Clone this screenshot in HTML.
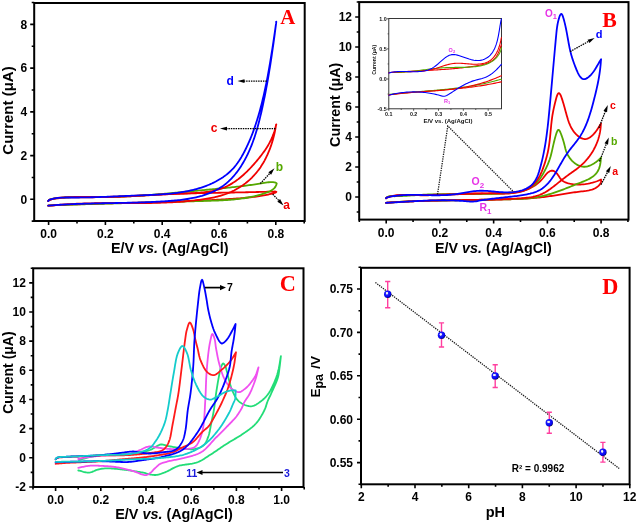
<!DOCTYPE html>
<html><head><meta charset="utf-8"><style>
html,body{margin:0;padding:0;background:#fff;}
svg{display:block;will-change:transform;}
</style></head><body>
<svg width="637" height="523" viewBox="0 0 637 523">
<defs><radialGradient id="ball" cx="0.4" cy="0.38" r="0.65"><stop offset="0" stop-color="#fff"/><stop offset="0.22" stop-color="#dde"/><stop offset="0.3" stop-color="#22f"/><stop offset="0.8" stop-color="#00e"/><stop offset="1" stop-color="#003"/></radialGradient></defs>
<rect width="637" height="523" fill="#fff"/>
<rect x="34.2" y="3" width="270.5" height="218" fill="none" stroke="#000" stroke-width="2"/>
<path d="M48.60,221v4M105.40,221v4M162.20,221v4M219.00,221v4M275.80,221v4M77.00,221v2.5M133.80,221v2.5M190.60,221v2.5M247.40,221v2.5M304.20,221v2.5" stroke="#000" stroke-width="1.6" fill="none"/>
<path d="M34.2,199.30h-4M34.2,155.58h-4M34.2,111.86h-4M34.2,68.14h-4M34.2,24.42h-4M34.2,221.16h-2.5M34.2,177.44h-2.5M34.2,133.72h-2.5M34.2,90.00h-2.5M34.2,46.28h-2.5M34.2,2.56h-2.5" stroke="#000" stroke-width="1.6" fill="none"/>
<text x="27.2" y="203.60000000000002" font-size="12" text-anchor="end" font-weight="bold" fill="#000" font-family='"Liberation Sans", sans-serif' >0</text>
<text x="27.2" y="159.88000000000002" font-size="12" text-anchor="end" font-weight="bold" fill="#000" font-family='"Liberation Sans", sans-serif' >2</text>
<text x="27.2" y="116.16000000000001" font-size="12" text-anchor="end" font-weight="bold" fill="#000" font-family='"Liberation Sans", sans-serif' >4</text>
<text x="27.2" y="72.44000000000001" font-size="12" text-anchor="end" font-weight="bold" fill="#000" font-family='"Liberation Sans", sans-serif' >6</text>
<text x="27.2" y="28.720000000000017" font-size="12" text-anchor="end" font-weight="bold" fill="#000" font-family='"Liberation Sans", sans-serif' >8</text>
<text x="48.6" y="238.3" font-size="12" text-anchor="middle" font-weight="bold" fill="#000" font-family='"Liberation Sans", sans-serif' >0.0</text>
<text x="105.4" y="238.3" font-size="12" text-anchor="middle" font-weight="bold" fill="#000" font-family='"Liberation Sans", sans-serif' >0.2</text>
<text x="162.20000000000002" y="238.3" font-size="12" text-anchor="middle" font-weight="bold" fill="#000" font-family='"Liberation Sans", sans-serif' >0.4</text>
<text x="219.0" y="238.3" font-size="12" text-anchor="middle" font-weight="bold" fill="#000" font-family='"Liberation Sans", sans-serif' >0.6</text>
<text x="275.8" y="238.3" font-size="12" text-anchor="middle" font-weight="bold" fill="#000" font-family='"Liberation Sans", sans-serif' >0.8</text>
<text x="169.7" y="252.9" font-size="14.4" text-anchor="middle" font-weight="bold" fill="#000" font-family='"Liberation Sans", sans-serif' >E/V <tspan font-style="italic">vs.</tspan> (Ag/AgCl)</text>
<text transform="translate(13.0,110.5) rotate(-90)" x="0" y="0" font-size="15" text-anchor="middle" font-weight="bold" font-family='"Liberation Sans", sans-serif'>Current (μA)</text>
<text x="287.8" y="24.4" font-size="20.8" text-anchor="middle" font-weight="bold" fill="#f00" font-family='"Liberation Serif", serif' >A</text>
<path d="M48.20,201.00L49.28,199.92L50.67,199.43L52.08,199.02L53.50,198.66L54.94,198.36L56.40,198.12L57.87,197.92L59.35,197.76L60.84,197.64L62.34,197.56L63.85,197.50L65.37,197.46L66.89,197.45L68.41,197.44L69.94,197.45L71.47,197.46L73.00,197.47L74.53,197.47L76.05,197.47L77.58,197.47L79.11,197.46L80.63,197.46L82.16,197.44L83.69,197.43L85.21,197.41L86.74,197.39L88.26,197.37L89.78,197.35L91.31,197.32L92.83,197.29L94.35,197.26L95.87,197.22L97.40,197.18L98.92,197.14L100.44,197.10L101.96,197.06L103.48,197.01L105.00,196.97L106.52,196.92L108.04,196.87L109.56,196.81L111.08,196.76L112.59,196.70L114.11,196.64L115.63,196.59L117.15,196.53L118.67,196.46L120.18,196.40L121.70,196.34L123.22,196.27L124.73,196.21L126.25,196.14L127.77,196.07L129.28,196.00L130.80,195.93L132.32,195.86L133.83,195.79L135.35,195.72L136.86,195.65L138.38,195.58L139.89,195.51L141.41,195.44L142.93,195.36L144.44,195.29L145.96,195.22L147.47,195.15L148.99,195.07L150.50,195.00L152.02,194.93L153.53,194.86L155.05,194.79L156.56,194.72L158.08,194.65L159.60,194.58L161.11,194.51L162.63,194.44L164.14,194.37L165.66,194.31L167.18,194.24L168.69,194.18L170.21,194.11L171.72,194.05L173.24,193.99L174.76,193.93L176.27,193.88L177.79,193.82L179.31,193.76L180.83,193.71L182.34,193.66L183.86,193.61L185.38,193.56L186.90,193.51L188.42,193.47L189.94,193.42L191.46,193.38L192.97,193.34L194.49,193.30L196.01,193.26L197.53,193.22L199.05,193.18L200.57,193.15L202.09,193.11L203.61,193.08L205.13,193.04L206.65,193.01L208.17,192.98L209.69,192.95L211.21,192.92L212.73,192.89L214.25,192.86L215.77,192.83L217.29,192.80L218.81,192.77L220.33,192.74L221.85,192.71L223.37,192.69L224.89,192.66L226.41,192.63L227.93,192.60L229.45,192.58L230.97,192.55L232.49,192.52L234.01,192.49L235.52,192.46L237.04,192.44L238.56,192.41L240.08,192.38L241.60,192.35L243.12,192.32L244.64,192.29L246.15,192.26L247.67,192.23L249.19,192.19L250.70,192.16L252.22,192.13L253.74,192.09L255.25,192.06L256.77,192.02L258.29,191.98L259.80,191.95L261.32,191.91L262.83,191.87L264.35,191.82L265.86,191.78L267.37,191.74L268.89,191.69L270.40,191.64L271.91,191.60L273.42,191.55L274.94,191.49L276.40,191.80L276.40,191.80L275.36,192.75L273.92,193.14L272.48,193.52L271.03,193.87L269.58,194.21L268.13,194.53L266.67,194.84L265.21,195.13L263.74,195.40L262.27,195.66L260.79,195.91L259.32,196.15L257.84,196.37L256.35,196.58L254.86,196.78L253.38,196.97L251.88,197.14L250.39,197.31L248.89,197.47L247.39,197.62L245.89,197.77L244.39,197.91L242.89,198.04L241.38,198.16L239.88,198.28L238.37,198.39L236.87,198.50L235.36,198.61L233.85,198.71L232.34,198.81L230.83,198.91L229.32,199.01L227.81,199.10L226.30,199.19L224.79,199.29L223.29,199.38L221.78,199.46L220.27,199.55L218.76,199.64L217.25,199.72L215.74,199.80L214.23,199.88L212.72,199.96L211.21,200.04L209.70,200.12L208.19,200.19L206.68,200.27L205.17,200.34L203.66,200.41L202.15,200.48L200.64,200.55L199.13,200.61L197.62,200.68L196.12,200.75L194.61,200.81L193.10,200.87L191.59,200.93L190.08,200.99L188.57,201.05L187.06,201.11L185.55,201.17L184.04,201.23L182.53,201.28L181.02,201.34L179.51,201.39L178.00,201.44L176.49,201.49L174.98,201.55L173.47,201.60L171.96,201.65L170.45,201.70L168.94,201.74L167.43,201.79L165.92,201.84L164.41,201.88L162.90,201.93L161.39,201.97L159.88,202.02L158.37,202.06L156.86,202.11L155.35,202.15L153.84,202.19L152.33,202.23L150.82,202.28L149.31,202.32L147.80,202.36L146.29,202.40L144.78,202.44L143.27,202.48L141.76,202.52L140.25,202.56L138.74,202.60L137.23,202.64L135.72,202.67L134.21,202.71L132.70,202.75L131.19,202.79L129.68,202.83L128.17,202.87L126.66,202.91L125.15,202.94L123.64,202.98L122.13,203.02L120.62,203.06L119.11,203.10L117.60,203.14L116.09,203.18L114.58,203.22L113.07,203.26L111.56,203.30L110.05,203.34L108.54,203.38L107.03,203.42L105.52,203.46L104.01,203.50L102.50,203.54L100.99,203.58L99.48,203.63L97.98,203.67L96.47,203.71L94.96,203.76L93.45,203.80L91.94,203.85L90.43,203.89L88.92,203.94L87.41,203.99L85.90,204.04L84.39,204.08L82.89,204.13L81.38,204.18L79.87,204.24L78.36,204.29L76.85,204.34L75.34,204.39L73.84,204.45L72.33,204.50L70.82,204.56L69.31,204.62L67.80,204.67L66.29,204.73L64.79,204.79L63.28,204.85L61.77,204.92L60.26,204.98L58.75,205.05L57.25,205.11L55.74,205.18L54.23,205.25L52.72,205.32L51.22,205.39L49.71,205.46L48.20,205.60" fill="none" stroke="#f00000" stroke-width="1.8" stroke-linejoin="round" stroke-linecap="round"/>
<path d="M48.20,201.00L49.22,199.87L50.57,199.34L51.97,198.96L53.42,198.68L54.90,198.47L56.39,198.30L57.88,198.13L59.37,197.98L60.86,197.84L62.36,197.72L63.86,197.61L65.35,197.51L66.85,197.42L68.36,197.35L69.86,197.28L71.36,197.22L72.87,197.17L74.37,197.13L75.88,197.10L77.39,197.07L78.90,197.05L80.41,197.04L81.92,197.03L83.43,197.02L84.95,197.02L86.46,197.02L87.97,197.03L89.49,197.03L91.00,197.04L92.52,197.05L94.03,197.06L95.55,197.06L97.06,197.07L98.58,197.07L100.09,197.08L101.61,197.07L103.12,197.07L104.64,197.06L106.15,197.04L107.66,197.02L109.18,197.00L110.69,196.97L112.20,196.94L113.72,196.90L115.23,196.86L116.74,196.81L118.25,196.77L119.77,196.71L121.28,196.65L122.79,196.59L124.30,196.53L125.81,196.46L127.32,196.39L128.83,196.31L130.34,196.23L131.85,196.15L133.36,196.07L134.87,195.98L136.38,195.89L137.88,195.79L139.39,195.70L140.90,195.60L142.41,195.49L143.92,195.39L145.42,195.28L146.93,195.17L148.44,195.06L149.94,194.94L151.45,194.83L152.96,194.71L154.46,194.59L155.97,194.47L157.47,194.34L158.98,194.22L160.48,194.09L161.99,193.96L163.49,193.83L165.00,193.69L166.50,193.56L168.00,193.43L169.51,193.29L171.01,193.15L172.51,193.02L174.02,192.88L175.52,192.74L177.02,192.60L178.52,192.46L180.03,192.32L181.53,192.17L183.03,192.03L184.53,191.89L186.03,191.75L187.53,191.60L189.04,191.46L190.54,191.32L192.04,191.18L193.54,191.03L195.04,190.89L196.54,190.75L198.04,190.61L199.54,190.47L201.04,190.33L202.54,190.19L204.04,190.05L205.54,189.91L207.04,189.77L208.54,189.63L210.04,189.49L211.54,189.35L213.04,189.21L214.54,189.06L216.04,188.92L217.54,188.77L219.04,188.63L220.54,188.48L222.04,188.33L223.54,188.18L225.04,188.03L226.54,187.87L228.04,187.71L229.54,187.55L231.04,187.39L232.54,187.23L234.05,187.06L235.55,186.89L237.05,186.72L238.56,186.54L240.06,186.36L241.56,186.18L243.07,186.00L244.57,185.81L246.08,185.61L247.59,185.42L249.09,185.22L250.60,185.01L252.11,184.80L253.62,184.59L255.13,184.37L256.64,184.15L258.15,183.92L259.66,183.69L261.17,183.45L262.68,183.20L264.20,182.96L265.71,182.70L267.22,182.46L268.72,182.25L270.19,182.11L271.64,182.04L273.05,182.09L274.42,182.27L275.73,182.60L276.70,183.50L276.70,183.50L276.22,185.15L275.48,186.60L274.58,187.85L273.54,188.91L272.39,189.82L271.15,190.61L269.83,191.28L268.46,191.88L267.06,192.43L265.65,192.94L264.23,193.43L262.80,193.90L261.37,194.35L259.93,194.78L258.48,195.18L257.04,195.57L255.58,195.94L254.12,196.28L252.66,196.61L251.19,196.93L249.72,197.22L248.24,197.50L246.76,197.76L245.28,198.01L243.79,198.24L242.29,198.46L240.80,198.67L239.30,198.86L237.80,199.04L236.29,199.21L234.79,199.36L233.28,199.51L231.76,199.64L230.25,199.77L228.73,199.88L227.21,199.99L225.69,200.09L224.17,200.18L222.65,200.27L221.12,200.34L219.60,200.42L218.07,200.48L216.54,200.55L215.01,200.61L213.49,200.66L211.96,200.71L210.43,200.76L208.90,200.81L207.37,200.86L205.85,200.90L204.32,200.95L202.79,200.99L201.27,201.04L199.74,201.08L198.22,201.12L196.69,201.17L195.17,201.21L193.65,201.25L192.12,201.30L190.60,201.34L189.08,201.38L187.56,201.43L186.04,201.47L184.52,201.51L183.00,201.55L181.48,201.60L179.96,201.64L178.44,201.68L176.92,201.72L175.41,201.76L173.89,201.81L172.37,201.85L170.86,201.89L169.34,201.93L167.83,201.97L166.31,202.01L164.79,202.05L163.28,202.09L161.77,202.13L160.25,202.17L158.74,202.21L157.22,202.26L155.71,202.30L154.20,202.34L152.68,202.38L151.17,202.42L149.66,202.46L148.15,202.50L146.63,202.54L145.12,202.58L143.61,202.62L142.10,202.66L140.59,202.70L139.08,202.74L137.56,202.78L136.05,202.82L134.54,202.86L133.03,202.90L131.52,202.94L130.01,202.98L128.50,203.02L126.99,203.06L125.48,203.10L123.96,203.15L122.45,203.19L120.94,203.23L119.43,203.27L117.92,203.31L116.41,203.35L114.90,203.39L113.39,203.43L111.88,203.48L110.36,203.52L108.85,203.56L107.34,203.60L105.83,203.64L104.32,203.69L102.80,203.73L101.29,203.77L99.78,203.82L98.27,203.86L96.75,203.90L95.24,203.95L93.73,203.99L92.21,204.03L90.70,204.08L89.18,204.12L87.67,204.17L86.15,204.21L84.64,204.26L83.12,204.30L81.61,204.35L80.09,204.39L78.57,204.44L77.06,204.49L75.54,204.53L74.02,204.58L72.50,204.63L70.99,204.67L69.47,204.72L67.95,204.77L66.43,204.82L64.91,204.87L63.39,204.92L61.87,204.97L60.34,205.02L58.82,205.07L57.30,205.12L55.78,205.17L54.25,205.22L52.73,205.27L51.20,205.32L49.68,205.37L48.20,205.60" fill="none" stroke="#55a800" stroke-width="1.8" stroke-linejoin="round" stroke-linecap="round"/>
<path d="M48.20,201.00L49.27,199.93L50.68,199.55L52.10,199.23L53.54,198.94L54.99,198.68L56.44,198.45L57.90,198.24L59.37,198.04L60.85,197.87L62.33,197.71L63.81,197.57L65.31,197.44L66.80,197.33L68.30,197.24L69.81,197.15L71.31,197.08L72.83,197.03L74.34,196.98L75.86,196.94L77.38,196.91L78.91,196.89L80.43,196.88L81.96,196.88L83.49,196.88L85.02,196.89L86.56,196.90L88.09,196.91L89.62,196.93L91.16,196.95L92.69,196.97L94.23,196.99L95.76,197.01L97.30,197.02L98.83,197.04L100.36,197.05L101.89,197.06L103.42,197.06L104.94,197.06L106.46,197.05L107.98,197.04L109.50,197.02L111.02,197.00L112.54,196.97L114.05,196.94L115.56,196.90L117.07,196.85L118.58,196.81L120.09,196.75L121.59,196.70L123.10,196.64L124.60,196.58L126.11,196.51L127.61,196.44L129.11,196.37L130.61,196.29L132.11,196.22L133.61,196.14L135.11,196.06L136.61,195.97L138.11,195.89L139.61,195.80L141.11,195.71L142.61,195.62L144.11,195.53L145.61,195.44L147.11,195.35L148.61,195.26L150.11,195.16L151.61,195.07L153.12,194.98L154.62,194.89L156.13,194.80L157.63,194.71L159.14,194.62L160.65,194.53L162.16,194.44L163.67,194.36L165.18,194.27L166.70,194.19L168.22,194.11L169.74,194.04L171.26,193.96L172.78,193.89L174.31,193.82L175.84,193.76L177.37,193.69L178.90,193.64L180.44,193.58L181.97,193.53L183.51,193.48L185.06,193.43L186.60,193.38L188.14,193.33L189.68,193.28L191.22,193.22L192.76,193.15L194.30,193.07L195.84,192.99L197.37,192.89L198.90,192.78L200.42,192.66L201.94,192.52L203.46,192.37L204.96,192.20L206.46,192.01L207.96,191.79L209.44,191.56L210.92,191.30L212.39,191.01L213.85,190.70L215.30,190.36L216.73,189.99L218.16,189.59L219.58,189.16L220.98,188.69L222.37,188.19L223.74,187.65L225.11,187.07L226.45,186.46L227.79,185.80L229.10,185.11L230.41,184.39L231.70,183.63L232.97,182.84L234.24,182.02L235.48,181.16L236.72,180.28L237.94,179.38L239.14,178.45L240.33,177.49L241.51,176.51L242.68,175.51L243.83,174.48L244.96,173.44L246.09,172.38L247.20,171.31L248.29,170.22L249.38,169.11L250.45,168.00L251.50,166.87L252.55,165.73L253.58,164.58L254.59,163.43L255.60,162.27L256.59,161.11L257.57,159.94L258.53,158.77L259.48,157.59L260.42,156.41L261.34,155.23L262.24,154.04L263.13,152.83L264.00,151.63L264.85,150.41L265.67,149.18L266.48,147.94L267.27,146.68L268.03,145.42L268.77,144.14L269.48,142.84L270.17,141.53L270.84,140.20L271.48,138.85L272.09,137.49L272.67,136.10L273.22,134.70L273.74,133.27L274.24,131.82L274.70,130.35L275.12,128.86L275.52,127.33L275.88,125.79L276.30,124.30L276.30,124.30L275.95,125.65L275.71,127.12L275.46,128.60L275.18,130.08L274.88,131.56L274.57,133.05L274.23,134.54L273.87,136.03L273.49,137.52L273.09,139.01L272.67,140.50L272.23,141.98L271.76,143.46L271.28,144.94L270.77,146.41L270.25,147.88L269.70,149.33L269.13,150.78L268.53,152.22L267.92,153.65L267.28,155.07L266.62,156.47L265.94,157.86L265.24,159.24L264.52,160.60L263.77,161.94L263.00,163.27L262.20,164.58L261.39,165.87L260.55,167.14L259.68,168.39L258.80,169.61L257.89,170.81L256.95,171.99L256.00,173.15L255.02,174.28L254.02,175.39L253.00,176.48L251.96,177.54L250.90,178.57L249.81,179.59L248.71,180.57L247.59,181.54L246.45,182.47L245.29,183.39L244.11,184.28L242.91,185.14L241.70,185.98L240.47,186.79L239.22,187.58L237.96,188.34L236.68,189.07L235.38,189.78L234.07,190.47L232.75,191.12L231.41,191.76L230.06,192.36L228.69,192.94L227.31,193.49L225.92,194.01L224.51,194.51L223.10,194.98L221.67,195.42L220.23,195.84L218.79,196.24L217.33,196.62L215.87,196.97L214.39,197.30L212.92,197.62L211.43,197.92L209.94,198.20L208.44,198.46L206.94,198.72L205.44,198.96L203.93,199.18L202.43,199.40L200.92,199.61L199.41,199.81L197.90,200.00L196.39,200.18L194.88,200.36L193.36,200.53L191.85,200.69L190.34,200.85L188.83,201.00L187.32,201.14L185.80,201.28L184.29,201.41L182.78,201.53L181.26,201.65L179.75,201.76L178.24,201.87L176.72,201.97L175.21,202.07L173.69,202.16L172.18,202.24L170.67,202.32L169.15,202.40L167.64,202.47L166.12,202.54L164.61,202.60L163.09,202.66L161.57,202.71L160.06,202.76L158.54,202.81L157.03,202.85L155.51,202.89L154.00,202.92L152.48,202.96L150.96,202.98L149.45,203.01L147.93,203.03L146.42,203.06L144.90,203.07L143.38,203.09L141.87,203.10L140.35,203.12L138.83,203.13L137.32,203.14L135.80,203.14L134.29,203.15L132.77,203.15L131.25,203.16L129.74,203.16L128.22,203.16L126.71,203.16L125.19,203.16L123.68,203.16L122.16,203.16L120.65,203.16L119.13,203.16L117.62,203.16L116.10,203.16L114.59,203.16L113.07,203.16L111.56,203.16L110.04,203.16L108.53,203.16L107.02,203.17L105.50,203.18L103.99,203.18L102.48,203.19L100.97,203.20L99.45,203.22L97.94,203.23L96.43,203.25L94.92,203.27L93.41,203.29L91.90,203.32L90.39,203.34L88.88,203.37L87.37,203.41L85.86,203.45L84.35,203.49L82.84,203.53L81.33,203.58L79.82,203.63L78.31,203.68L76.81,203.74L75.30,203.81L73.79,203.88L72.29,203.95L70.78,204.03L69.28,204.11L67.77,204.20L66.27,204.29L64.76,204.39L63.26,204.49L61.76,204.60L60.25,204.72L58.75,204.84L57.25,204.97L55.75,205.10L54.25,205.24L52.75,205.38L51.25,205.54L49.75,205.70L48.20,205.60" fill="none" stroke="#f00000" stroke-width="1.8" stroke-linejoin="round" stroke-linecap="round"/>
<path d="M48.20,201.00L49.25,199.93L50.62,199.45L52.00,199.04L53.41,198.69L54.85,198.40L56.30,198.15L57.77,197.96L59.25,197.80L60.75,197.69L62.26,197.60L63.78,197.54L65.31,197.51L66.84,197.49L68.38,197.48L69.91,197.49L71.45,197.49L72.98,197.50L74.51,197.50L76.04,197.49L77.56,197.49L79.09,197.48L80.60,197.46L82.12,197.45L83.63,197.42L85.14,197.40L86.65,197.37L88.15,197.34L89.65,197.31L91.15,197.27L92.65,197.24L94.15,197.19L95.64,197.15L97.14,197.11L98.63,197.06L100.12,197.01L101.61,196.96L103.10,196.90L104.59,196.85L106.08,196.79L107.57,196.74L109.06,196.68L110.55,196.62L112.04,196.56L113.53,196.49L115.02,196.43L116.51,196.37L118.00,196.30L119.49,196.24L120.98,196.17L122.48,196.11L123.97,196.04L125.47,195.98L126.97,195.91L128.47,195.85L129.97,195.78L131.47,195.72L132.98,195.66L134.49,195.59L136.00,195.53L137.51,195.47L139.03,195.41L140.55,195.35L142.07,195.29L143.60,195.23L145.12,195.17L146.65,195.11L148.18,195.05L149.71,194.98L151.24,194.91L152.77,194.84L154.30,194.77L155.83,194.69L157.36,194.60L158.90,194.51L160.43,194.41L161.96,194.31L163.48,194.20L165.01,194.08L166.54,193.96L168.06,193.83L169.58,193.68L171.10,193.53L172.62,193.37L174.14,193.20L175.65,193.02L177.16,192.82L178.66,192.62L180.16,192.40L181.66,192.17L183.15,191.93L184.64,191.67L186.13,191.40L187.60,191.11L189.08,190.81L190.55,190.49L192.01,190.16L193.47,189.81L194.92,189.44L196.36,189.06L197.80,188.65L199.23,188.23L200.65,187.79L202.07,187.33L203.48,186.85L204.88,186.35L206.27,185.82L207.65,185.28L209.03,184.71L210.40,184.12L211.76,183.51L213.10,182.87L214.44,182.21L215.77,181.53L217.08,180.82L218.38,180.08L219.66,179.32L220.93,178.54L222.18,177.72L223.42,176.88L224.63,176.02L225.83,175.12L227.00,174.20L228.15,173.25L229.28,172.26L230.38,171.25L231.46,170.21L232.51,169.14L233.53,168.04L234.53,166.91L235.49,165.74L236.43,164.55L237.34,163.33L238.22,162.08L239.08,160.81L239.91,159.52L240.72,158.21L241.51,156.89L242.27,155.55L243.02,154.20L243.75,152.84L244.46,151.48L245.16,150.11L245.84,148.73L246.51,147.36L247.17,145.98L247.81,144.60L248.43,143.22L249.05,141.83L249.65,140.44L250.24,139.05L250.81,137.66L251.38,136.26L251.93,134.86L252.47,133.46L253.00,132.06L253.52,130.65L254.03,129.24L254.52,127.83L255.01,126.41L255.49,125.00L255.96,123.58L256.42,122.15L256.87,120.73L257.32,119.30L257.75,117.87L258.18,116.44L258.60,115.00L259.02,113.56L259.42,112.12L259.82,110.68L260.22,109.23L260.60,107.78L260.99,106.33L261.36,104.88L261.73,103.42L262.10,101.96L262.46,100.50L262.81,99.04L263.16,97.58L263.50,96.11L263.84,94.64L264.17,93.17L264.50,91.70L264.82,90.22L265.14,88.75L265.46,87.27L265.77,85.79L266.07,84.31L266.37,82.83L266.67,81.34L266.96,79.86L267.25,78.37L267.54,76.89L267.82,75.40L268.10,73.91L268.37,72.42L268.64,70.93L268.91,69.44L269.17,67.95L269.43,66.46L269.69,64.96L269.95,63.47L270.20,61.98L270.45,60.48L270.69,58.99L270.94,57.49L271.18,56.00L271.42,54.50L271.66,53.01L271.89,51.51L272.13,50.02L272.36,48.52L272.59,47.03L272.82,45.53L273.04,44.04L273.27,42.55L273.49,41.05L273.72,39.56L273.94,38.07L274.16,36.58L274.38,35.09L274.60,33.60L274.82,32.11L275.03,30.63L275.25,29.14L275.47,27.65L275.68,26.17L275.90,24.69L276.12,23.21L276.30,21.70L276.30,21.70L276.15,23.18L275.96,24.70L275.76,26.21L275.56,27.73L275.36,29.24L275.16,30.75L274.96,32.25L274.76,33.76L274.56,35.27L274.36,36.77L274.15,38.27L273.95,39.77L273.74,41.27L273.54,42.76L273.33,44.26L273.12,45.75L272.91,47.24L272.70,48.73L272.48,50.22L272.27,51.71L272.05,53.19L271.84,54.68L271.62,56.16L271.39,57.65L271.17,59.13L270.95,60.61L270.72,62.09L270.49,63.57L270.26,65.05L270.02,66.53L269.79,68.00L269.55,69.48L269.31,70.96L269.07,72.43L268.82,73.91L268.57,75.38L268.32,76.85L268.07,78.33L267.81,79.80L267.55,81.27L267.29,82.74L267.02,84.22L266.76,85.69L266.48,87.16L266.21,88.63L265.93,90.10L265.65,91.58L265.37,93.05L265.08,94.52L264.79,95.99L264.49,97.46L264.19,98.94L263.89,100.41L263.58,101.88L263.27,103.35L262.96,104.83L262.64,106.30L262.32,107.78L261.99,109.25L261.66,110.73L261.33,112.21L260.99,113.68L260.64,115.16L260.29,116.64L259.93,118.11L259.57,119.59L259.20,121.06L258.82,122.54L258.43,124.01L258.04,125.48L257.63,126.95L257.22,128.42L256.79,129.89L256.36,131.35L255.91,132.81L255.46,134.27L254.99,135.73L254.51,137.18L254.01,138.63L253.51,140.08L252.99,141.52L252.45,142.96L251.91,144.39L251.34,145.82L250.76,147.25L250.17,148.67L249.56,150.09L248.93,151.50L248.29,152.90L247.63,154.30L246.95,155.69L246.25,157.07L245.54,158.44L244.81,159.81L244.06,161.15L243.29,162.49L242.51,163.82L241.71,165.12L240.89,166.42L240.05,167.69L239.19,168.95L238.31,170.20L237.42,171.42L236.51,172.62L235.58,173.80L234.62,174.96L233.66,176.10L232.67,177.21L231.66,178.29L230.63,179.36L229.58,180.39L228.52,181.40L227.43,182.37L226.32,183.32L225.20,184.24L224.05,185.12L222.89,185.98L221.70,186.80L220.49,187.59L219.27,188.35L218.03,189.08L216.77,189.78L215.49,190.45L214.20,191.10L212.89,191.72L211.57,192.31L210.23,192.88L208.88,193.42L207.51,193.94L206.13,194.43L204.74,194.90L203.33,195.35L201.92,195.78L200.49,196.18L199.05,196.57L197.60,196.93L196.14,197.28L194.68,197.61L193.20,197.92L191.72,198.21L190.22,198.49L188.72,198.75L187.22,199.00L185.71,199.23L184.19,199.45L182.67,199.65L181.14,199.84L179.61,200.02L178.08,200.19L176.54,200.35L175.00,200.50L173.46,200.64L171.92,200.77L170.38,200.90L168.84,201.01L167.30,201.12L165.75,201.23L164.21,201.33L162.67,201.42L161.14,201.51L159.60,201.60L158.07,201.69L156.54,201.77L155.02,201.84L153.49,201.92L151.97,201.99L150.45,202.05L148.93,202.12L147.41,202.18L145.89,202.24L144.38,202.29L142.87,202.35L141.35,202.40L139.84,202.45L138.34,202.49L136.83,202.54L135.32,202.58L133.82,202.62L132.32,202.66L130.81,202.70L129.31,202.73L127.81,202.77L126.31,202.80L124.81,202.83L123.32,202.86L121.82,202.90L120.32,202.92L118.83,202.95L117.33,202.98L115.84,203.01L114.34,203.04L112.85,203.07L111.36,203.09L109.87,203.12L108.37,203.15L106.88,203.17L105.39,203.20L103.89,203.23L102.40,203.26L100.91,203.29L99.42,203.32L97.92,203.35L96.43,203.38L94.94,203.42L93.44,203.45L91.95,203.49L90.45,203.53L88.96,203.57L87.46,203.61L85.96,203.65L84.47,203.70L82.97,203.74L81.47,203.79L79.97,203.84L78.47,203.90L76.96,203.95L75.46,204.01L73.95,204.08L72.45,204.14L70.94,204.21L69.43,204.28L67.92,204.35L66.41,204.43L64.90,204.51L63.38,204.59L61.86,204.68L60.35,204.77L58.83,204.87L57.30,204.97L55.78,205.07L54.25,205.18L52.72,205.29L51.19,205.41L49.66,205.53L48.20,205.60" fill="none" stroke="#0000ff" stroke-width="1.8" stroke-linejoin="round" stroke-linecap="round"/>
<line x1="266.8" y1="81.1" x2="243.00" y2="81.10" stroke="#000" stroke-width="1.3" stroke-dasharray="1.5,0.9"/>
<path d="M237.50,81.10L244.50,79.20L244.50,83.00Z" fill="#000"/>
<line x1="275.5" y1="128.6" x2="225.50" y2="128.60" stroke="#000" stroke-width="1.3" stroke-dasharray="1.5,0.9"/>
<path d="M220.00,128.60L227.00,126.70L227.00,130.50Z" fill="#000"/>
<line x1="260.3" y1="183.6" x2="270.76" y2="172.33" stroke="#000" stroke-width="1.3" stroke-dasharray="1.5,0.9"/>
<path d="M274.50,168.30L271.13,174.72L268.35,172.14Z" fill="#000"/>
<line x1="272.7" y1="194.1" x2="279.72" y2="201.51" stroke="#000" stroke-width="1.3" stroke-dasharray="1.5,0.9"/>
<path d="M283.50,205.50L277.31,201.73L280.07,199.11Z" fill="#000"/>
<text x="230.2" y="84.8" font-size="12" text-anchor="middle" font-weight="bold" fill="#0000ff" font-family='"Liberation Sans", sans-serif' >d</text>
<text x="214.2" y="132.4" font-size="12" text-anchor="middle" font-weight="bold" fill="#f00000" font-family='"Liberation Sans", sans-serif' >c</text>
<text x="279.3" y="171.3" font-size="12" text-anchor="middle" font-weight="bold" fill="#55a800" font-family='"Liberation Sans", sans-serif' >b</text>
<text x="286.7" y="208.6" font-size="12" text-anchor="middle" font-weight="bold" fill="#f00000" font-family='"Liberation Sans", sans-serif' >a</text>
<rect x="359.2" y="2.1" width="269.3" height="217.5" fill="none" stroke="#000" stroke-width="2"/>
<path d="M386.20,219.6v4M439.92,219.6v4M493.64,219.6v4M547.36,219.6v4M601.08,219.6v4M359.34,219.6v2.5M413.06,219.6v2.5M466.78,219.6v2.5M520.50,219.6v2.5M574.22,219.6v2.5M627.94,219.6v2.5" stroke="#000" stroke-width="1.6" fill="none"/>
<path d="M359.2,197.00h-4M359.2,167.00h-4M359.2,137.00h-4M359.2,107.00h-4M359.2,77.00h-4M359.2,47.00h-4M359.2,17.00h-4M359.2,212.00h-2.5M359.2,182.00h-2.5M359.2,152.00h-2.5M359.2,122.00h-2.5M359.2,92.00h-2.5M359.2,62.00h-2.5M359.2,32.00h-2.5M359.2,2.00h-2.5" stroke="#000" stroke-width="1.6" fill="none"/>
<text x="352" y="201.3" font-size="12" text-anchor="end" font-weight="bold" fill="#000" font-family='"Liberation Sans", sans-serif' >0</text>
<text x="352" y="171.3" font-size="12" text-anchor="end" font-weight="bold" fill="#000" font-family='"Liberation Sans", sans-serif' >2</text>
<text x="352" y="141.3" font-size="12" text-anchor="end" font-weight="bold" fill="#000" font-family='"Liberation Sans", sans-serif' >4</text>
<text x="352" y="111.3" font-size="12" text-anchor="end" font-weight="bold" fill="#000" font-family='"Liberation Sans", sans-serif' >6</text>
<text x="352" y="81.3" font-size="12" text-anchor="end" font-weight="bold" fill="#000" font-family='"Liberation Sans", sans-serif' >8</text>
<text x="352" y="51.3" font-size="12" text-anchor="end" font-weight="bold" fill="#000" font-family='"Liberation Sans", sans-serif' >10</text>
<text x="352" y="21.3" font-size="12" text-anchor="end" font-weight="bold" fill="#000" font-family='"Liberation Sans", sans-serif' >12</text>
<text x="386.2" y="237" font-size="12" text-anchor="middle" font-weight="bold" fill="#000" font-family='"Liberation Sans", sans-serif' >0.0</text>
<text x="439.92" y="237" font-size="12" text-anchor="middle" font-weight="bold" fill="#000" font-family='"Liberation Sans", sans-serif' >0.2</text>
<text x="493.64" y="237" font-size="12" text-anchor="middle" font-weight="bold" fill="#000" font-family='"Liberation Sans", sans-serif' >0.4</text>
<text x="547.36" y="237" font-size="12" text-anchor="middle" font-weight="bold" fill="#000" font-family='"Liberation Sans", sans-serif' >0.6</text>
<text x="601.08" y="237" font-size="12" text-anchor="middle" font-weight="bold" fill="#000" font-family='"Liberation Sans", sans-serif' >0.8</text>
<text x="493.4" y="252.5" font-size="14.3" text-anchor="middle" font-weight="bold" fill="#000" font-family='"Liberation Sans", sans-serif' >E/V <tspan font-style="italic">vs.</tspan> (Ag/AgCl)</text>
<text transform="translate(339.8,104.8) rotate(-90)" x="0" y="0" font-size="14.3" text-anchor="middle" font-weight="bold" font-family='"Liberation Sans", sans-serif'>Current (μA)</text>
<text x="609.5" y="27.1" font-size="21.8" text-anchor="middle" font-weight="bold" fill="#f00" font-family='"Liberation Serif", serif' >B</text>
<path d="M386.00,198.20L387.23,197.40L388.60,196.91L389.99,196.49L391.40,196.12L392.84,195.80L394.29,195.54L395.76,195.33L397.24,195.16L398.74,195.03L400.25,194.93L401.78,194.87L403.31,194.83L404.85,194.82L406.40,194.83L407.96,194.86L409.52,194.90L411.08,194.95L412.64,195.01L414.20,195.06L415.76,195.12L417.32,195.17L418.87,195.21L420.42,195.23L421.96,195.25L423.50,195.26L425.04,195.26L426.57,195.26L428.09,195.24L429.62,195.22L431.14,195.19L432.65,195.15L434.17,195.11L435.68,195.06L437.18,195.00L438.69,194.95L440.19,194.88L441.70,194.82L443.20,194.75L444.70,194.68L446.19,194.61L447.69,194.53L449.19,194.45L450.69,194.38L452.18,194.30L453.68,194.23L455.17,194.15L456.67,194.08L458.17,194.00L459.67,193.93L461.17,193.87L462.67,193.80L464.17,193.74L465.68,193.69L467.19,193.64L468.70,193.59L470.21,193.55L471.72,193.52L473.24,193.50L474.76,193.48L476.29,193.47L477.82,193.46L479.35,193.47L480.89,193.48L482.43,193.51L483.97,193.54L485.52,193.57L487.07,193.61L488.62,193.65L490.17,193.69L491.72,193.73L493.27,193.76L494.82,193.79L496.37,193.80L497.91,193.82L499.46,193.81L500.99,193.80L502.53,193.77L504.06,193.73L505.59,193.67L507.11,193.59L508.62,193.48L510.13,193.36L511.63,193.21L513.12,193.03L514.60,192.82L516.07,192.59L517.53,192.32L518.98,192.02L520.42,191.68L521.85,191.31L523.27,190.89L524.67,190.44L526.06,189.94L527.43,189.40L528.79,188.82L530.14,188.18L531.46,187.50L532.77,186.77L534.06,185.99L535.32,185.15L536.56,184.26L537.78,183.32L538.96,182.32L540.11,181.27L541.23,180.15L542.31,178.99L543.36,177.76L544.37,176.48L545.38,175.20L546.40,173.98L547.48,172.86L548.64,171.91L549.89,171.19L551.17,170.75L552.45,170.66L553.70,170.95L554.88,171.59L556.00,172.51L557.04,173.65L557.99,174.94L558.89,176.30L559.78,177.67L560.71,178.95L561.73,180.10L562.87,181.03L564.11,181.79L565.45,182.39L566.84,182.88L568.27,183.29L569.73,183.63L571.21,183.92L572.70,184.15L574.21,184.33L575.74,184.44L577.27,184.51L578.82,184.53L580.36,184.49L581.91,184.41L583.46,184.28L585.01,184.10L586.54,183.88L588.07,183.62L589.59,183.32L591.09,182.98L592.58,182.60L594.04,182.19L595.49,181.74L596.90,181.26L598.29,180.74L599.65,180.20L601.00,179.50L601.00,179.50L601.26,181.12L600.83,182.61L600.10,183.94L599.22,185.12L598.22,186.16L597.13,187.07L595.95,187.85L594.70,188.52L593.37,189.10L591.99,189.58L590.55,189.99L589.06,190.33L587.54,190.62L585.99,190.87L584.42,191.08L582.84,191.28L581.26,191.46L579.68,191.65L578.11,191.85L576.56,192.05L575.01,192.26L573.47,192.48L571.94,192.70L570.42,192.93L568.91,193.16L567.40,193.40L565.90,193.63L564.40,193.87L562.91,194.11L561.43,194.36L559.94,194.60L558.46,194.84L556.99,195.08L555.51,195.31L554.04,195.55L552.56,195.78L551.09,196.00L549.61,196.22L548.14,196.43L546.66,196.64L545.18,196.84L543.70,197.02L542.22,197.21L540.73,197.38L539.23,197.54L537.73,197.68L536.23,197.82L534.72,197.95L533.21,198.07L531.70,198.19L530.18,198.29L528.66,198.39L527.14,198.48L525.62,198.57L524.09,198.65L522.57,198.73L521.04,198.80L519.52,198.87L517.99,198.93L516.47,199.00L514.95,199.06L513.42,199.12L511.90,199.18L510.38,199.23L508.85,199.28L507.33,199.33L505.81,199.38L504.29,199.43L502.77,199.47L501.25,199.51L499.73,199.55L498.21,199.59L496.69,199.63L495.17,199.66L493.65,199.70L492.13,199.73L490.61,199.76L489.09,199.79L487.57,199.82L486.05,199.84L484.53,199.87L483.01,199.89L481.50,199.92L479.98,199.94L478.46,199.96L476.94,199.98L475.43,200.01L473.91,200.03L472.39,200.05L470.88,200.07L469.36,200.08L467.84,200.10L466.33,200.12L464.81,200.14L463.30,200.16L461.78,200.18L460.26,200.20L458.75,200.22L457.23,200.24L455.72,200.26L454.20,200.28L452.69,200.30L451.17,200.32L449.66,200.34L448.14,200.36L446.63,200.38L445.11,200.41L443.60,200.43L442.08,200.46L440.56,200.49L439.05,200.52L437.53,200.55L436.02,200.58L434.50,200.61L432.99,200.64L431.47,200.68L429.96,200.72L428.44,200.75L426.93,200.79L425.41,200.84L423.90,200.88L422.38,200.93L420.87,200.98L419.35,201.03L417.84,201.08L416.32,201.13L414.80,201.19L413.29,201.25L411.77,201.31L410.26,201.38L408.74,201.45L407.22,201.52L405.71,201.59L404.19,201.67L402.67,201.75L401.16,201.83L399.64,201.91L398.12,202.00L396.60,202.10L395.09,202.19L393.57,202.29L392.05,202.39L390.53,202.50L389.01,202.61L387.50,202.72L386.00,202.90" fill="none" stroke="#f00000" stroke-width="1.8" stroke-linejoin="round" stroke-linecap="round"/>
<path d="M386.00,198.20L387.16,197.07L388.49,196.48L389.91,196.22L391.38,196.18L392.88,196.21L394.39,196.23L395.90,196.22L397.41,196.20L398.93,196.17L400.45,196.11L401.97,196.05L403.49,195.97L405.02,195.88L406.54,195.79L408.07,195.69L409.60,195.58L411.13,195.47L412.65,195.36L414.18,195.26L415.71,195.15L417.23,195.05L418.76,194.95L420.28,194.86L421.80,194.78L423.32,194.70L424.84,194.63L426.36,194.57L427.88,194.51L429.39,194.45L430.91,194.40L432.42,194.36L433.94,194.32L435.45,194.28L436.96,194.25L438.47,194.22L439.98,194.19L441.49,194.17L443.00,194.15L444.51,194.14L446.01,194.12L447.52,194.11L449.03,194.10L450.54,194.09L452.04,194.09L453.55,194.08L455.06,194.08L456.56,194.08L458.07,194.08L459.58,194.08L461.08,194.07L462.59,194.07L464.10,194.07L465.60,194.07L467.11,194.07L468.62,194.07L470.13,194.06L471.64,194.06L473.15,194.05L474.66,194.04L476.17,194.03L477.68,194.01L479.19,194.00L480.71,193.98L482.22,193.96L483.74,193.93L485.25,193.90L486.77,193.87L488.29,193.83L489.81,193.79L491.33,193.75L492.85,193.70L494.38,193.65L495.90,193.59L497.43,193.52L498.96,193.45L500.49,193.37L502.02,193.29L503.55,193.20L505.09,193.11L506.62,193.01L508.16,192.89L509.69,192.77L511.22,192.63L512.75,192.47L514.27,192.29L515.77,192.08L517.27,191.84L518.75,191.56L520.22,191.26L521.66,190.91L523.09,190.51L524.50,190.08L525.88,189.59L527.23,189.05L528.56,188.45L529.86,187.79L531.13,187.07L532.36,186.29L533.55,185.43L534.71,184.50L535.83,183.49L536.90,182.41L537.94,181.25L538.93,180.03L539.88,178.76L540.80,177.44L541.68,176.09L542.52,174.72L543.32,173.33L544.09,171.93L544.83,170.54L545.53,169.16L546.20,167.80L546.83,166.46L547.44,165.12L548.01,163.79L548.55,162.46L549.06,161.12L549.54,159.78L549.99,158.41L550.41,157.04L550.80,155.64L551.17,154.23L551.53,152.80L551.88,151.35L552.21,149.88L552.55,148.40L552.88,146.90L553.22,145.38L553.57,143.84L553.94,142.29L554.32,140.71L554.73,139.12L555.16,137.51L555.62,135.88L556.12,134.23L556.66,132.63L557.22,131.25L557.82,130.25L558.43,129.82L559.06,130.08L559.69,130.95L560.33,132.24L560.95,133.79L561.55,135.42L562.12,137.04L562.67,138.62L563.17,140.18L563.63,141.70L564.05,143.20L564.42,144.66L564.77,146.11L565.11,147.53L565.47,148.94L565.87,150.33L566.34,151.72L566.89,153.09L567.54,154.46L568.28,155.81L569.11,157.13L570.03,158.41L571.02,159.64L572.08,160.80L573.21,161.90L574.39,162.91L575.63,163.83L576.92,164.64L578.25,165.34L579.62,165.91L581.02,166.35L582.44,166.64L583.88,166.77L585.34,166.73L586.80,166.52L588.26,166.16L589.72,165.65L591.15,165.03L592.56,164.30L593.93,163.48L595.26,162.60L596.54,161.66L597.76,160.69L598.90,159.70L599.97,158.71L601.00,157.70L601.00,157.70L600.79,159.12L600.70,160.78L600.52,162.43L600.27,164.04L599.94,165.62L599.52,167.15L599.01,168.62L598.41,170.01L597.72,171.32L596.93,172.53L596.04,173.66L595.08,174.69L594.03,175.65L592.91,176.54L591.73,177.36L590.49,178.13L589.20,178.85L587.87,179.52L586.50,180.16L585.11,180.77L583.69,181.36L582.25,181.93L580.81,182.50L579.37,183.07L577.93,183.64L576.50,184.21L575.06,184.78L573.63,185.35L572.20,185.92L570.77,186.50L569.35,187.06L567.92,187.63L566.49,188.19L565.07,188.74L563.64,189.29L562.22,189.83L560.79,190.36L559.36,190.89L557.94,191.40L556.51,191.90L555.07,192.39L553.64,192.87L552.20,193.33L550.76,193.78L549.32,194.22L547.88,194.63L546.43,195.03L544.97,195.41L543.52,195.77L542.05,196.11L540.59,196.43L539.12,196.73L537.64,197.01L536.16,197.26L534.67,197.50L533.18,197.71L531.68,197.91L530.18,198.08L528.68,198.25L527.17,198.39L525.66,198.52L524.15,198.64L522.64,198.75L521.12,198.84L519.60,198.92L518.08,198.99L516.55,199.06L515.03,199.11L513.50,199.16L511.97,199.20L510.45,199.23L508.92,199.26L507.39,199.29L505.86,199.31L504.33,199.33L502.80,199.35L501.28,199.37L499.75,199.39L498.23,199.42L496.70,199.44L495.18,199.47L493.66,199.49L492.14,199.52L490.62,199.55L489.10,199.58L487.58,199.61L486.06,199.64L484.55,199.68L483.03,199.71L481.52,199.75L480.00,199.78L478.49,199.82L476.97,199.85L475.46,199.89L473.95,199.92L472.43,199.96L470.92,199.99L469.41,200.03L467.89,200.07L466.38,200.10L464.87,200.14L463.35,200.17L461.84,200.20L460.33,200.24L458.81,200.27L457.30,200.30L455.78,200.33L454.27,200.36L452.75,200.38L451.23,200.41L449.72,200.44L448.20,200.46L446.68,200.49L445.16,200.51L443.65,200.54L442.13,200.56L440.61,200.59L439.09,200.61L437.57,200.64L436.05,200.66L434.53,200.69L433.01,200.72L431.49,200.74L429.97,200.77L428.45,200.81L426.93,200.84L425.41,200.87L423.89,200.91L422.37,200.95L420.85,200.99L419.33,201.03L417.81,201.07L416.29,201.12L414.77,201.17L413.25,201.22L411.73,201.28L410.22,201.34L408.70,201.40L407.18,201.47L405.66,201.54L404.15,201.61L402.63,201.69L401.12,201.77L399.60,201.86L398.09,201.95L396.58,202.04L395.06,202.14L393.55,202.25L392.04,202.36L390.53,202.47L389.02,202.59L387.51,202.72L386.00,202.90" fill="none" stroke="#55a800" stroke-width="1.8" stroke-linejoin="round" stroke-linecap="round"/>
<path d="M386.00,198.20L387.22,197.39L388.60,197.01L390.01,196.67L391.43,196.37L392.86,196.11L394.31,195.87L395.77,195.67L397.24,195.50L398.72,195.35L400.21,195.23L401.71,195.13L403.22,195.05L404.74,194.99L406.26,194.94L407.79,194.91L409.32,194.88L410.85,194.87L412.38,194.87L413.92,194.87L415.45,194.87L416.99,194.87L418.52,194.87L420.05,194.87L421.58,194.87L423.10,194.86L424.63,194.85L426.15,194.84L427.67,194.83L429.19,194.81L430.70,194.80L432.21,194.78L433.73,194.76L435.24,194.74L436.75,194.71L438.25,194.69L439.76,194.66L441.26,194.63L442.77,194.60L444.27,194.57L445.77,194.53L447.27,194.50L448.77,194.46L450.27,194.43L451.77,194.39L453.26,194.35L454.76,194.31L456.26,194.27L457.75,194.23L459.25,194.18L460.74,194.14L462.24,194.10L463.74,194.05L465.23,194.01L466.73,193.96L468.22,193.92L469.72,193.87L471.22,193.82L472.71,193.78L474.21,193.73L475.71,193.68L477.21,193.64L478.71,193.59L480.21,193.54L481.71,193.50L483.21,193.45L484.72,193.40L486.22,193.36L487.73,193.31L489.24,193.27L490.75,193.23L492.26,193.18L493.77,193.14L495.28,193.10L496.80,193.06L498.32,193.02L499.84,192.98L501.36,192.94L502.88,192.90L504.41,192.87L505.94,192.83L507.47,192.80L509.00,192.75L510.53,192.70L512.05,192.62L513.56,192.52L515.06,192.39L516.56,192.22L518.03,192.01L519.50,191.75L520.94,191.44L522.36,191.07L523.76,190.63L525.13,190.12L526.48,189.52L527.79,188.85L529.07,188.09L530.32,187.22L531.53,186.26L532.70,185.21L533.82,184.09L534.89,182.92L535.89,181.70L536.83,180.45L537.71,179.19L538.52,177.92L539.28,176.63L539.99,175.32L540.64,173.99L541.26,172.66L541.85,171.30L542.40,169.94L542.92,168.56L543.43,167.17L543.91,165.76L544.39,164.34L544.86,162.91L545.31,161.47L545.75,160.03L546.18,158.57L546.59,157.10L546.98,155.63L547.34,154.15L547.69,152.67L548.01,151.18L548.31,149.70L548.58,148.20L548.83,146.71L549.06,145.21L549.28,143.71L549.48,142.21L549.66,140.71L549.83,139.21L550.00,137.71L550.15,136.21L550.30,134.71L550.44,133.21L550.58,131.72L550.72,130.22L550.86,128.73L551.00,127.24L551.14,125.75L551.29,124.27L551.45,122.79L551.62,121.31L551.80,119.84L551.99,118.38L552.19,116.91L552.42,115.46L552.66,114.01L552.92,112.56L553.20,111.10L553.50,109.63L553.82,108.13L554.17,106.60L554.54,105.02L554.93,103.40L555.34,101.72L555.78,99.98L556.24,98.23L556.72,96.59L557.23,95.15L557.76,94.01L558.32,93.29L558.90,93.09L559.49,93.44L560.10,94.26L560.71,95.46L561.32,96.94L561.91,98.62L562.48,100.38L563.02,102.15L563.52,103.85L563.99,105.46L564.43,107.01L564.84,108.50L565.24,109.96L565.63,111.39L566.02,112.82L566.41,114.25L566.81,115.68L567.22,117.12L567.64,118.56L568.09,120.00L568.58,121.42L569.09,122.83L569.65,124.23L570.25,125.61L570.90,126.96L571.61,128.28L572.38,129.58L573.22,130.84L574.13,132.06L575.12,133.23L576.19,134.36L577.35,135.44L578.59,136.45L579.90,137.35L581.26,138.10L582.63,138.66L584.01,138.98L585.38,139.04L586.72,138.83L588.04,138.39L589.32,137.75L590.57,136.92L591.78,135.94L592.95,134.84L594.08,133.63L595.15,132.35L596.17,131.03L597.13,129.68L598.04,128.35L598.87,127.04L599.64,125.80L600.33,124.65L601.00,123.60L601.00,123.60L600.79,125.08L600.70,126.61L600.57,128.13L600.39,129.65L600.17,131.15L599.91,132.65L599.61,134.14L599.26,135.61L598.88,137.07L598.45,138.53L597.99,139.96L597.49,141.39L596.95,142.80L596.38,144.20L595.76,145.58L595.12,146.94L594.44,148.29L593.72,149.62L592.97,150.93L592.19,152.22L591.37,153.49L590.52,154.74L589.65,155.97L588.74,157.17L587.80,158.35L586.83,159.51L585.84,160.65L584.82,161.76L583.77,162.84L582.69,163.90L581.59,164.93L580.46,165.93L579.31,166.91L578.14,167.85L576.95,168.78L575.74,169.68L574.52,170.57L573.28,171.46L572.05,172.33L570.81,173.20L569.57,174.08L568.33,174.96L567.11,175.86L565.89,176.76L564.68,177.69L563.48,178.62L562.28,179.56L561.09,180.51L559.90,181.46L558.71,182.42L557.52,183.38L556.33,184.33L555.14,185.28L553.94,186.22L552.74,187.14L551.52,188.05L550.30,188.94L549.06,189.80L547.81,190.63L546.54,191.42L545.26,192.18L543.96,192.90L542.64,193.57L541.30,194.20L539.94,194.76L538.55,195.28L537.14,195.73L535.70,196.14L534.25,196.50L532.78,196.82L531.30,197.10L529.80,197.34L528.29,197.56L526.78,197.74L525.25,197.91L523.73,198.05L522.19,198.18L520.66,198.30L519.13,198.41L517.61,198.51L516.08,198.61L514.55,198.70L513.03,198.78L511.51,198.86L509.99,198.94L508.48,199.01L506.96,199.08L505.44,199.14L503.93,199.20L502.42,199.25L500.91,199.30L499.40,199.35L497.89,199.40L496.38,199.44L494.87,199.48L493.36,199.51L491.85,199.55L490.34,199.58L488.84,199.61L487.33,199.64L485.82,199.67L484.31,199.69L482.81,199.72L481.30,199.74L479.79,199.76L478.28,199.79L476.77,199.81L475.26,199.83L473.75,199.86L472.24,199.88L470.73,199.90L469.22,199.93L467.71,199.95L466.19,199.97L464.68,200.00L463.17,200.02L461.65,200.04L460.14,200.07L458.63,200.09L457.11,200.12L455.60,200.14L454.08,200.17L452.57,200.20L451.05,200.22L449.54,200.25L448.02,200.28L446.51,200.31L444.99,200.34L443.48,200.37L441.96,200.40L440.44,200.44L438.93,200.47L437.41,200.51L435.90,200.55L434.38,200.58L432.87,200.62L431.35,200.67L429.83,200.71L428.32,200.75L426.80,200.80L425.29,200.84L423.77,200.89L422.26,200.94L420.74,201.00L419.23,201.05L417.72,201.11L416.20,201.16L414.69,201.22L413.17,201.29L411.66,201.35L410.15,201.42L408.64,201.49L407.12,201.56L405.61,201.63L404.10,201.70L402.59,201.78L401.08,201.86L399.57,201.95L398.06,202.03L396.55,202.12L395.04,202.21L393.54,202.30L392.03,202.40L390.52,202.50L389.02,202.60L387.51,202.71L386.00,202.90" fill="none" stroke="#f00000" stroke-width="1.8" stroke-linejoin="round" stroke-linecap="round"/>
<path d="M386.00,198.20L387.19,197.35L388.64,197.03L390.11,196.73L391.57,196.46L393.04,196.22L394.51,196.00L395.99,195.80L397.46,195.63L398.94,195.48L400.43,195.35L401.92,195.24L403.40,195.15L404.90,195.07L406.39,195.01L407.89,194.96L409.39,194.93L410.89,194.91L412.39,194.90L413.89,194.90L415.40,194.91L416.90,194.92L418.41,194.95L419.92,194.97L421.43,195.00L422.94,195.04L424.46,195.07L425.97,195.11L427.48,195.14L429.00,195.17L430.51,195.20L432.02,195.23L433.54,195.25L435.05,195.26L436.56,195.27L438.08,195.26L439.59,195.25L441.10,195.22L442.61,195.18L444.12,195.13L445.63,195.06L447.14,194.98L448.64,194.88L450.15,194.76L451.65,194.62L453.15,194.46L454.65,194.28L456.15,194.08L457.65,193.85L459.14,193.61L460.63,193.36L462.12,193.10L463.61,192.83L465.10,192.56L466.59,192.30L468.08,192.04L469.56,191.80L471.05,191.57L472.54,191.36L474.02,191.18L475.51,191.02L477.00,190.89L478.48,190.80L479.97,190.75L481.46,190.73L482.95,190.75L484.44,190.80L485.94,190.87L487.43,190.97L488.92,191.08L490.42,191.21L491.92,191.35L493.42,191.49L494.92,191.64L496.43,191.78L497.94,191.92L499.44,192.05L500.96,192.17L502.47,192.27L503.99,192.35L505.51,192.40L507.03,192.43L508.55,192.42L510.08,192.37L511.61,192.29L513.15,192.15L514.69,191.97L516.22,191.74L517.74,191.46L519.25,191.13L520.74,190.74L522.20,190.29L523.63,189.78L525.03,189.20L526.38,188.57L527.68,187.87L528.92,187.10L530.11,186.26L531.23,185.35L532.28,184.37L533.25,183.31L534.14,182.18L534.96,180.98L535.71,179.73L536.40,178.41L537.04,177.06L537.63,175.66L538.17,174.23L538.68,172.77L539.16,171.30L539.60,169.81L540.03,168.31L540.45,166.82L540.85,165.32L541.24,163.83L541.61,162.34L541.97,160.85L542.32,159.36L542.66,157.88L542.99,156.39L543.31,154.91L543.61,153.42L543.91,151.94L544.19,150.45L544.47,148.97L544.74,147.49L544.99,146.01L545.24,144.53L545.48,143.05L545.72,141.57L545.94,140.09L546.16,138.61L546.37,137.13L546.57,135.65L546.77,134.17L546.96,132.69L547.15,131.21L547.33,129.72L547.51,128.24L547.68,126.76L547.84,125.28L548.01,123.79L548.17,122.31L548.32,120.82L548.48,119.34L548.63,117.85L548.77,116.36L548.92,114.87L549.07,113.38L549.21,111.89L549.35,110.40L549.49,108.90L549.63,107.40L549.77,105.91L549.91,104.41L550.05,102.91L550.19,101.40L550.33,99.90L550.47,98.40L550.61,96.89L550.75,95.39L550.88,93.88L551.02,92.38L551.16,90.87L551.29,89.36L551.43,87.85L551.57,86.34L551.70,84.84L551.84,83.33L551.97,81.82L552.11,80.31L552.24,78.80L552.38,77.29L552.51,75.78L552.64,74.28L552.78,72.77L552.91,71.26L553.05,69.76L553.18,68.25L553.31,66.75L553.45,65.24L553.58,63.74L553.72,62.24L553.85,60.74L553.98,59.24L554.12,57.74L554.25,56.24L554.39,54.75L554.52,53.25L554.66,51.76L554.79,50.27L554.93,48.78L555.06,47.29L555.20,45.81L555.33,44.32L555.47,42.84L555.61,41.36L555.74,39.88L555.88,38.41L556.02,36.94L556.16,35.47L556.30,34.00L556.44,32.53L556.59,31.06L556.75,29.58L556.94,28.08L557.16,26.56L557.42,25.01L557.72,23.43L558.06,21.81L558.46,20.14L558.93,18.44L559.44,16.79L559.99,15.38L560.56,14.35L561.14,13.88L561.71,14.09L562.26,14.89L562.78,16.13L563.29,17.66L563.77,19.33L564.22,21.01L564.63,22.65L565.03,24.28L565.40,25.88L565.74,27.46L566.07,29.02L566.38,30.57L566.67,32.09L566.96,33.60L567.23,35.09L567.49,36.57L567.75,38.03L568.01,39.48L568.27,40.92L568.52,42.35L568.78,43.77L569.05,45.18L569.33,46.58L569.61,47.98L569.91,49.37L570.23,50.76L570.56,52.15L570.92,53.53L571.29,54.91L571.69,56.30L572.12,57.70L572.57,59.12L573.04,60.55L573.55,62.01L574.08,63.49L574.65,65.01L575.25,66.57L575.88,68.17L576.54,69.81L577.24,71.47L577.99,73.10L578.78,74.65L579.63,76.05L580.54,77.26L581.52,78.22L582.57,78.88L583.69,79.19L584.90,79.09L586.16,78.64L587.45,77.89L588.74,76.92L589.99,75.78L591.17,74.55L592.26,73.28L593.25,72.01L594.15,70.75L594.98,69.49L595.75,68.25L596.48,67.02L597.18,65.81L597.87,64.60L598.58,63.36L599.34,62.08L600.17,60.74L601.10,59.30L601.10,59.30L600.90,60.79L600.80,62.34L600.68,63.88L600.54,65.42L600.39,66.94L600.23,68.45L600.04,69.96L599.85,71.46L599.64,72.95L599.42,74.44L599.18,75.92L598.94,77.39L598.68,78.86L598.41,80.33L598.13,81.79L597.84,83.25L597.53,84.71L597.22,86.17L596.90,87.62L596.57,89.08L596.24,90.53L595.89,91.99L595.54,93.45L595.18,94.91L594.82,96.37L594.45,97.83L594.08,99.30L593.70,100.77L593.31,102.25L592.92,103.73L592.52,105.21L592.12,106.69L591.71,108.18L591.28,109.66L590.85,111.14L590.41,112.61L589.95,114.08L589.48,115.55L589.00,117.01L588.50,118.46L587.98,119.91L587.45,121.34L586.90,122.76L586.33,124.17L585.74,125.57L585.13,126.95L584.50,128.32L583.85,129.67L583.17,131.01L582.47,132.33L581.74,133.62L580.98,134.90L580.20,136.16L579.39,137.39L578.55,138.60L577.69,139.79L576.81,140.97L575.91,142.14L575.00,143.30L574.08,144.46L573.15,145.61L572.22,146.77L571.29,147.93L570.37,149.10L569.45,150.29L568.55,151.49L567.65,152.71L566.78,153.95L565.93,155.22L565.09,156.51L564.27,157.82L563.47,159.14L562.67,160.48L561.89,161.83L561.11,163.19L560.34,164.55L559.57,165.92L558.80,167.28L558.03,168.64L557.25,170.00L556.47,171.34L555.68,172.67L554.87,173.99L554.06,175.29L553.22,176.57L552.37,177.82L551.50,179.05L550.60,180.25L549.68,181.41L548.74,182.54L547.76,183.63L546.75,184.68L545.71,185.68L544.63,186.64L543.51,187.55L542.35,188.41L541.15,189.21L539.90,189.95L538.60,190.63L537.26,191.25L535.89,191.82L534.47,192.34L533.03,192.81L531.56,193.24L530.06,193.64L528.55,193.99L527.02,194.32L525.48,194.62L523.93,194.89L522.39,195.15L520.84,195.38L519.30,195.61L517.76,195.82L516.23,196.02L514.71,196.22L513.20,196.40L511.69,196.59L510.18,196.76L508.69,196.93L507.19,197.10L505.70,197.26L504.21,197.42L502.73,197.58L501.25,197.74L499.77,197.90L498.29,198.06L496.82,198.22L495.34,198.39L493.86,198.56L492.39,198.74L490.91,198.92L489.44,199.12L487.96,199.31L486.48,199.52L484.99,199.74L483.51,199.97L482.02,200.21L480.52,200.47L479.03,200.73L477.52,201.01L476.02,201.27L474.52,201.47L473.03,201.58L471.54,201.59L470.05,201.54L468.57,201.44L467.09,201.31L465.61,201.18L464.13,201.05L462.65,200.94L461.17,200.84L459.68,200.74L458.19,200.66L456.70,200.58L455.22,200.51L453.73,200.45L452.23,200.40L450.74,200.36L449.25,200.33L447.75,200.30L446.26,200.28L444.76,200.27L443.26,200.27L441.76,200.27L440.26,200.28L438.76,200.29L437.26,200.32L435.76,200.34L434.25,200.37L432.75,200.41L431.25,200.45L429.74,200.50L428.23,200.55L426.73,200.61L425.22,200.67L423.71,200.73L422.21,200.80L420.70,200.87L419.19,200.94L417.68,201.02L416.17,201.09L414.66,201.17L413.15,201.26L411.64,201.34L410.13,201.43L408.63,201.51L407.12,201.60L405.61,201.69L404.10,201.78L402.59,201.87L401.08,201.96L399.57,202.05L398.06,202.14L396.55,202.23L395.04,202.31L393.53,202.40L392.02,202.48L390.51,202.57L389.01,202.65L387.50,202.73L386.00,202.90" fill="none" stroke="#0000ff" stroke-width="1.8" stroke-linejoin="round" stroke-linecap="round"/>
<path d="M437.5,194.5L447.8,126L513.4,191.6" fill="none" stroke="#1a1a1a" stroke-width="1.3" stroke-dasharray="1.3,1.05"/>
<line x1="570.1" y1="51.6" x2="589.79" y2="40.67" stroke="#000" stroke-width="1.3" stroke-dasharray="1.5,0.9"/>
<path d="M594.60,38.00L589.40,43.06L587.56,39.74Z" fill="#000"/>
<line x1="598.9" y1="127.9" x2="605.81" y2="110.13" stroke="#000" stroke-width="1.3" stroke-dasharray="1.5,0.9"/>
<path d="M607.80,105.00L607.04,112.21L603.49,110.84Z" fill="#000"/>
<line x1="599.5" y1="161.5" x2="606.81" y2="142.63" stroke="#000" stroke-width="1.3" stroke-dasharray="1.5,0.9"/>
<path d="M608.80,137.50L608.04,144.71L604.50,143.34Z" fill="#000"/>
<line x1="601" y1="184.6" x2="608.24" y2="170.87" stroke="#000" stroke-width="1.3" stroke-dasharray="1.5,0.9"/>
<path d="M610.80,166.00L609.22,173.08L605.86,171.31Z" fill="#000"/>
<text x="599.2" y="38.3" font-size="11" text-anchor="middle" font-weight="bold" fill="#0000ff" font-family='"Liberation Sans", sans-serif' >d</text>
<text x="613" y="108.9" font-size="10.5" text-anchor="middle" font-weight="bold" fill="#f00000" font-family='"Liberation Sans", sans-serif' >c</text>
<text x="614.3" y="145.1" font-size="10.5" text-anchor="middle" font-weight="bold" fill="#55a800" font-family='"Liberation Sans", sans-serif' >b</text>
<text x="615.1" y="174.5" font-size="10.5" text-anchor="middle" font-weight="bold" fill="#f00000" font-family='"Liberation Sans", sans-serif' >a</text>
<text x="545" y="16.8" font-size="10" font-weight="bold" fill="#e632e6" font-family='"Liberation Sans", sans-serif'>O<tspan font-size="7.5" dy="2">1</tspan></text>
<text x="471.5" y="184.6" font-size="10.5" font-weight="bold" fill="#e632e6" font-family='"Liberation Sans", sans-serif'>O<tspan font-size="8" dy="3">2</tspan></text>
<text x="479.5" y="211" font-size="10.5" font-weight="bold" fill="#e632e6" font-family='"Liberation Sans", sans-serif'>R<tspan font-size="8" dy="3">1</tspan></text>
<rect x="388.8" y="18.5" width="112.69999999999999" height="90.3" fill="#fff" stroke="#222" stroke-width="0.9"/>
<path d="M388.80,108.8v2M413.65,108.8v2M438.50,108.8v2M463.35,108.8v2M488.20,108.8v2M401.23,108.8v1.2M426.07,108.8v1.2M450.93,108.8v1.2M475.77,108.8v1.2M388.8,109.10h-2M388.8,79.00h-2M388.8,48.90h-2M388.8,18.80h-2M388.8,94.05h-1.2M388.8,63.95h-1.2M388.8,33.85h-1.2" stroke="#333" stroke-width="0.8" fill="none"/>
<text x="388.8" y="116.3" font-size="5.3" text-anchor="middle" font-weight="bold" fill="#111" font-family='"Liberation Sans", sans-serif' >0.1</text>
<text x="413.65000000000003" y="116.3" font-size="5.3" text-anchor="middle" font-weight="bold" fill="#111" font-family='"Liberation Sans", sans-serif' >0.2</text>
<text x="438.5" y="116.3" font-size="5.3" text-anchor="middle" font-weight="bold" fill="#111" font-family='"Liberation Sans", sans-serif' >0.3</text>
<text x="463.35" y="116.3" font-size="5.3" text-anchor="middle" font-weight="bold" fill="#111" font-family='"Liberation Sans", sans-serif' >0.4</text>
<text x="488.20000000000005" y="116.3" font-size="5.3" text-anchor="middle" font-weight="bold" fill="#111" font-family='"Liberation Sans", sans-serif' >0.5</text>
<text x="386.6" y="110.89999999999999" font-size="5.3" text-anchor="end" font-weight="bold" fill="#111" font-family='"Liberation Sans", sans-serif' >-0.5</text>
<text x="386.6" y="80.8" font-size="5.3" text-anchor="end" font-weight="bold" fill="#111" font-family='"Liberation Sans", sans-serif' >0.0</text>
<text x="386.6" y="50.699999999999996" font-size="5.3" text-anchor="end" font-weight="bold" fill="#111" font-family='"Liberation Sans", sans-serif' >0.5</text>
<text x="386.6" y="20.599999999999998" font-size="5.3" text-anchor="end" font-weight="bold" fill="#111" font-family='"Liberation Sans", sans-serif' >1.0</text>
<path d="M388.80,72.60L390.32,72.57L391.83,72.45L393.34,72.33L394.86,72.21L396.37,72.10L397.88,72.00L399.39,71.90L400.91,71.80L402.42,71.70L403.94,71.61L405.45,71.52L406.97,71.44L408.49,71.35L410.00,71.27L411.52,71.19L413.04,71.11L414.55,71.04L416.07,70.96L417.59,70.88L419.11,70.81L420.63,70.74L422.14,70.66L423.66,70.59L425.18,70.51L426.70,70.44L428.22,70.36L429.74,70.28L431.25,70.20L432.77,70.12L434.29,70.03L435.81,69.95L437.33,69.86L438.84,69.77L440.36,69.67L441.88,69.57L443.39,69.47L444.91,69.37L446.42,69.25L447.94,69.14L449.45,69.02L450.97,68.90L452.48,68.77L453.99,68.63L455.51,68.49L457.02,68.34L458.53,68.19L460.04,68.03L461.55,67.86L463.06,67.68L464.57,67.50L466.08,67.31L467.58,67.11L469.09,66.91L470.59,66.69L472.10,66.47L473.60,66.24L475.10,66.00L476.61,65.75L478.11,65.49L479.60,65.21L481.10,64.92L482.58,64.60L484.04,64.24L485.47,63.84L486.88,63.38L488.25,62.85L489.58,62.24L490.86,61.55L492.09,60.77L493.26,59.88L494.37,58.88L495.41,57.76L496.36,56.50L497.24,55.11L498.04,53.58L498.75,51.97L499.39,50.35L499.97,48.77L500.49,47.29L500.96,45.97L501.40,45.00" fill="none" stroke="#f00000" stroke-width="1.1" stroke-linejoin="round" stroke-linecap="round"/>
<path d="M388.80,95.00L390.31,94.71L391.83,94.52L393.35,94.34L394.88,94.16L396.40,93.99L397.92,93.82L399.44,93.65L400.97,93.49L402.49,93.33L404.02,93.18L405.54,93.03L407.07,92.89L408.59,92.75L410.12,92.61L411.65,92.47L413.17,92.34L414.70,92.21L416.23,92.08L417.76,91.95L419.28,91.83L420.81,91.71L422.34,91.59L423.87,91.47L425.40,91.35L426.93,91.23L428.45,91.11L429.98,90.99L431.51,90.87L433.04,90.76L434.57,90.64L436.10,90.52L437.63,90.40L439.16,90.28L440.68,90.16L442.21,90.03L443.74,89.91L445.27,89.78L446.79,89.65L448.32,89.52L449.85,89.39L451.38,89.25L452.90,89.11L454.43,88.97L455.95,88.82L457.48,88.67L459.00,88.52L460.53,88.36L462.05,88.20L463.57,88.03L465.09,87.86L466.62,87.68L468.14,87.50L469.66,87.31L471.18,87.12L472.70,86.92L474.21,86.72L475.73,86.51L477.25,86.29L478.76,86.07L480.28,85.84L481.79,85.60L483.31,85.35L484.82,85.10L486.33,84.84L487.84,84.57L489.35,84.29L490.86,84.01L492.37,83.71L493.87,83.41L495.38,83.09L496.88,82.77L498.39,82.44L499.89,82.10L501.40,81.90" fill="none" stroke="#f00000" stroke-width="1.1" stroke-linejoin="round" stroke-linecap="round"/>
<path d="M388.80,72.40L390.36,72.48L391.92,72.52L393.47,72.54L395.01,72.54L396.55,72.51L398.08,72.47L399.60,72.41L401.12,72.33L402.64,72.24L404.15,72.13L405.65,72.01L407.15,71.88L408.65,71.74L410.15,71.58L411.64,71.42L413.13,71.25L414.62,71.07L416.11,70.88L417.59,70.69L419.08,70.50L420.56,70.30L422.05,70.11L423.53,69.91L425.02,69.71L426.50,69.51L427.99,69.32L429.48,69.13L430.97,68.95L432.46,68.77L433.96,68.60L435.46,68.43L436.96,68.28L438.47,68.13L439.98,68.00L441.50,67.88L443.02,67.77L444.55,67.68L446.08,67.60L447.62,67.54L449.16,67.50L450.71,67.46L452.27,67.44L453.82,67.43L455.38,67.42L456.94,67.41L458.50,67.40L460.06,67.39L461.62,67.38L463.18,67.36L464.73,67.33L466.28,67.28L467.82,67.23L469.36,67.15L470.90,67.05L472.42,66.94L473.94,66.79L475.45,66.62L476.95,66.42L478.44,66.19L479.91,65.92L481.38,65.61L482.82,65.26L484.25,64.87L485.66,64.43L487.03,63.93L488.38,63.38L489.69,62.77L490.96,62.10L492.18,61.36L493.36,60.54L494.48,59.65L495.55,58.69L496.56,57.64L497.50,56.50L498.38,55.27L499.18,53.95L499.90,52.53L500.54,51.01L501.10,49.38L501.40,47.70" fill="none" stroke="#55a800" stroke-width="1.1" stroke-linejoin="round" stroke-linecap="round"/>
<path d="M388.80,94.60L390.32,94.34L391.85,94.17L393.37,94.00L394.90,93.84L396.43,93.68L397.96,93.53L399.49,93.38L401.02,93.23L402.55,93.09L404.08,92.95L405.61,92.81L407.14,92.67L408.68,92.54L410.21,92.41L411.74,92.28L413.28,92.15L414.81,92.02L416.34,91.89L417.88,91.77L419.41,91.64L420.95,91.52L422.48,91.39L424.02,91.27L425.55,91.14L427.08,91.01L428.62,90.88L430.15,90.75L431.69,90.62L433.22,90.49L434.75,90.36L436.29,90.22L437.82,90.08L439.35,89.94L440.88,89.80L442.42,89.65L443.95,89.50L445.48,89.35L447.01,89.19L448.54,89.03L450.07,88.86L451.59,88.69L453.12,88.52L454.65,88.34L456.17,88.16L457.70,87.97L459.22,87.77L460.75,87.57L462.27,87.36L463.79,87.15L465.31,86.93L466.83,86.70L468.35,86.47L469.87,86.22L471.38,85.98L472.90,85.72L474.41,85.45L475.92,85.18L477.43,84.90L478.94,84.61L480.45,84.31L481.96,84.01L483.46,83.69L484.97,83.36L486.47,83.03L487.97,82.68L489.47,82.32L490.96,81.96L492.46,81.58L493.95,81.19L495.44,80.79L496.93,80.38L498.42,79.96L499.91,79.52L501.40,79.20" fill="none" stroke="#55a800" stroke-width="1.1" stroke-linejoin="round" stroke-linecap="round"/>
<path d="M388.80,72.80L390.29,72.57L391.78,72.39L393.28,72.24L394.79,72.11L396.30,72.01L397.82,71.92L399.34,71.85L400.87,71.79L402.39,71.75L403.92,71.72L405.46,71.69L406.99,71.66L408.53,71.64L410.07,71.62L411.60,71.59L413.14,71.55L414.67,71.51L416.21,71.45L417.74,71.38L419.27,71.29L420.80,71.18L422.32,71.05L423.84,70.89L425.35,70.71L426.86,70.50L428.36,70.25L429.86,69.97L431.35,69.65L432.84,69.29L434.31,68.88L435.78,68.44L437.24,67.98L438.70,67.49L440.15,67.00L441.60,66.51L443.05,66.02L444.50,65.56L445.94,65.12L447.39,64.72L448.83,64.35L450.28,64.04L451.74,63.77L453.19,63.55L454.66,63.39L456.13,63.28L457.62,63.23L459.11,63.24L460.61,63.29L462.13,63.38L463.66,63.50L465.20,63.64L466.75,63.77L468.31,63.90L469.87,64.02L471.45,64.11L473.01,64.18L474.58,64.21L476.13,64.20L477.67,64.15L479.19,64.04L480.68,63.88L482.15,63.65L483.59,63.34L484.98,62.96L486.34,62.50L487.65,61.95L488.91,61.29L490.12,60.54L491.27,59.68L492.35,58.70L493.37,57.61L494.33,56.42L495.22,55.14L496.05,53.78L496.82,52.36L497.53,50.89L498.17,49.38L498.76,47.85L499.30,46.29L499.77,44.74L500.20,43.20L500.56,41.68L500.88,40.20L501.14,38.76L501.40,37.50" fill="none" stroke="#f00000" stroke-width="1.1" stroke-linejoin="round" stroke-linecap="round"/>
<path d="M388.80,95.00L390.30,94.63L391.82,94.42L393.33,94.21L394.85,94.02L396.36,93.83L397.88,93.66L399.40,93.49L400.93,93.33L402.45,93.18L403.97,93.04L405.50,92.90L407.02,92.77L408.55,92.64L410.08,92.52L411.61,92.40L413.14,92.29L414.67,92.18L416.20,92.07L417.73,91.97L419.26,91.86L420.79,91.76L422.32,91.66L423.85,91.56L425.39,91.47L426.92,91.37L428.45,91.26L429.98,91.16L431.51,91.06L433.04,90.95L434.57,90.84L436.10,90.73L437.62,90.61L439.15,90.49L440.68,90.36L442.20,90.22L443.73,90.09L445.25,89.94L446.77,89.79L448.29,89.63L449.81,89.46L451.33,89.28L452.84,89.09L454.36,88.90L455.87,88.69L457.38,88.47L458.89,88.25L460.39,88.01L461.90,87.75L463.40,87.49L464.90,87.21L466.40,86.92L467.89,86.62L469.38,86.30L470.87,85.97L472.36,85.63L473.84,85.27L475.33,84.90L476.81,84.51L478.28,84.12L479.75,83.70L481.22,83.27L482.69,82.83L484.15,82.37L485.61,81.90L487.07,81.41L488.52,80.91L489.97,80.39L491.42,79.86L492.86,79.31L494.30,78.75L495.73,78.17L497.16,77.57L498.59,76.96L500.01,76.33L501.40,75.80" fill="none" stroke="#f00000" stroke-width="1.1" stroke-linejoin="round" stroke-linecap="round"/>
<path d="M388.80,73.00L390.20,72.60L391.64,72.28L393.10,72.03L394.57,71.83L396.07,71.68L397.58,71.58L399.10,71.51L400.63,71.48L402.18,71.48L403.73,71.50L405.29,71.53L406.86,71.57L408.42,71.62L409.99,71.66L411.56,71.70L413.12,71.72L414.67,71.72L416.22,71.70L417.76,71.65L419.29,71.56L420.81,71.43L422.31,71.25L423.79,71.01L425.25,70.72L426.69,70.36L428.11,69.93L429.51,69.42L430.87,68.83L432.21,68.15L433.52,67.37L434.80,66.50L436.05,65.56L437.28,64.55L438.49,63.51L439.68,62.44L440.86,61.37L442.04,60.32L443.22,59.30L444.40,58.33L445.59,57.43L446.79,56.63L448.01,55.92L449.25,55.35L450.51,54.92L451.80,54.65L453.12,54.56L454.47,54.61L455.85,54.80L457.26,55.10L458.69,55.48L460.14,55.93L461.61,56.42L463.10,56.95L464.60,57.49L466.12,58.03L467.65,58.55L469.18,59.05L470.72,59.50L472.27,59.88L473.81,60.20L475.35,60.42L476.89,60.54L478.42,60.54L479.94,60.40L481.44,60.12L482.90,59.72L484.32,59.20L485.68,58.56L486.97,57.82L488.17,56.98L489.28,56.06L490.32,55.05L491.27,53.97L492.15,52.81L492.97,51.59L493.71,50.30L494.40,48.96L495.03,47.57L495.61,46.14L496.13,44.66L496.61,43.16L497.05,41.62L497.45,40.06L497.82,38.49L498.16,36.91L498.47,35.31L498.76,33.72L499.03,32.14L499.29,30.56L499.54,29.01L499.78,27.47L500.03,25.96L500.27,24.49L500.52,23.05L500.78,21.66L501.05,20.32L501.40,19.00" fill="none" stroke="#0000ff" stroke-width="1.1" stroke-linejoin="round" stroke-linecap="round"/>
<path d="M388.80,95.20L390.24,94.83L391.69,94.47L393.15,94.13L394.62,93.82L396.11,93.53L397.60,93.26L399.10,93.02L400.62,92.80L402.14,92.61L403.66,92.44L405.19,92.29L406.73,92.17L408.27,92.07L409.81,91.99L411.36,91.94L412.90,91.91L414.45,91.91L416.00,91.93L417.54,91.97L419.09,92.04L420.63,92.13L422.17,92.25L423.70,92.38L425.23,92.55L426.75,92.73L428.26,92.94L429.77,93.18L431.27,93.44L432.76,93.72L434.23,94.02L435.70,94.35L437.15,94.71L438.60,95.08L440.02,95.48L441.43,95.89L442.82,96.18L444.16,96.26L445.46,96.02L446.72,95.53L447.97,94.85L449.20,94.08L450.44,93.27L451.69,92.45L452.95,91.62L454.21,90.79L455.49,89.96L456.78,89.14L458.08,88.32L459.39,87.52L460.71,86.73L462.04,85.96L463.39,85.21L464.75,84.48L466.12,83.79L467.51,83.13L468.91,82.50L470.33,81.92L471.76,81.38L473.21,80.88L474.67,80.43L476.14,80.03L477.62,79.64L479.10,79.26L480.58,78.88L482.04,78.47L483.49,78.02L484.91,77.53L486.31,76.96L487.68,76.31L489.01,75.57L490.30,74.76L491.57,73.88L492.79,72.94L493.99,71.94L495.15,70.91L496.27,69.84L497.36,68.75L498.42,67.64L499.45,66.52L500.44,65.41L501.40,64.30" fill="none" stroke="#0000ff" stroke-width="1.1" stroke-linejoin="round" stroke-linecap="round"/>
<text x="448.6" y="51.5" font-size="5.5" font-weight="bold" fill="#e632e6" font-family='"Liberation Sans", sans-serif'>O<tspan font-size="4" dy="1">2</tspan></text>
<text x="444" y="102.5" font-size="5.5" font-weight="bold" fill="#e632e6" font-family='"Liberation Sans", sans-serif'>R<tspan font-size="4" dy="1">1</tspan></text>
<text x="447.9" y="122.6" font-size="6" text-anchor="middle" font-weight="bold" fill="#111" font-family='"Liberation Sans", sans-serif' >E/V vs. (Ag/AgCl)</text>
<text transform="translate(376.4,59.8) rotate(-90)" font-size="5.1" text-anchor="middle" font-weight="bold" fill="#111" font-family='"Liberation Sans", sans-serif'>Current (μA)</text>
<rect x="33.2" y="268.3" width="270.3" height="218.7" fill="none" stroke="#000" stroke-width="2"/>
<path d="M55.60,487v4M100.80,487v4M146.00,487v4M191.20,487v4M236.40,487v4M281.60,487v4M33.00,487v2.5M78.20,487v2.5M123.40,487v2.5M168.60,487v2.5M213.80,487v2.5M259.00,487v2.5M304.20,487v2.5" stroke="#000" stroke-width="1.6" fill="none"/>
<path d="M33.2,486.96h-4M33.2,457.80h-4M33.2,428.64h-4M33.2,399.48h-4M33.2,370.32h-4M33.2,341.16h-4M33.2,312.00h-4M33.2,282.84h-4M33.2,472.38h-2.5M33.2,443.22h-2.5M33.2,414.06h-2.5M33.2,384.90h-2.5M33.2,355.74h-2.5M33.2,326.58h-2.5M33.2,297.42h-2.5M33.2,268.26h-2.5" stroke="#000" stroke-width="1.6" fill="none"/>
<text x="25.9" y="491.26000000000005" font-size="12" text-anchor="end" font-weight="bold" fill="#000" font-family='"Liberation Sans", sans-serif' >-2</text>
<text x="25.9" y="462.1" font-size="12" text-anchor="end" font-weight="bold" fill="#000" font-family='"Liberation Sans", sans-serif' >0</text>
<text x="25.9" y="432.94" font-size="12" text-anchor="end" font-weight="bold" fill="#000" font-family='"Liberation Sans", sans-serif' >2</text>
<text x="25.9" y="403.78000000000003" font-size="12" text-anchor="end" font-weight="bold" fill="#000" font-family='"Liberation Sans", sans-serif' >4</text>
<text x="25.9" y="374.62" font-size="12" text-anchor="end" font-weight="bold" fill="#000" font-family='"Liberation Sans", sans-serif' >6</text>
<text x="25.9" y="345.46000000000004" font-size="12" text-anchor="end" font-weight="bold" fill="#000" font-family='"Liberation Sans", sans-serif' >8</text>
<text x="25.9" y="316.3" font-size="12" text-anchor="end" font-weight="bold" fill="#000" font-family='"Liberation Sans", sans-serif' >10</text>
<text x="25.9" y="287.14000000000004" font-size="12" text-anchor="end" font-weight="bold" fill="#000" font-family='"Liberation Sans", sans-serif' >12</text>
<text x="55.6" y="504.2" font-size="12" text-anchor="middle" font-weight="bold" fill="#000" font-family='"Liberation Sans", sans-serif' >0.0</text>
<text x="100.80000000000001" y="504.2" font-size="12" text-anchor="middle" font-weight="bold" fill="#000" font-family='"Liberation Sans", sans-serif' >0.2</text>
<text x="146.0" y="504.2" font-size="12" text-anchor="middle" font-weight="bold" fill="#000" font-family='"Liberation Sans", sans-serif' >0.4</text>
<text x="191.2" y="504.2" font-size="12" text-anchor="middle" font-weight="bold" fill="#000" font-family='"Liberation Sans", sans-serif' >0.6</text>
<text x="236.4" y="504.2" font-size="12" text-anchor="middle" font-weight="bold" fill="#000" font-family='"Liberation Sans", sans-serif' >0.8</text>
<text x="281.6" y="504.2" font-size="12" text-anchor="middle" font-weight="bold" fill="#000" font-family='"Liberation Sans", sans-serif' >1.0</text>
<text x="174" y="519.2" font-size="14.4" text-anchor="middle" font-weight="bold" fill="#000" font-family='"Liberation Sans", sans-serif' >E/V <tspan font-style="italic">vs.</tspan> (Ag/AgCl)</text>
<text transform="translate(13.1,372.6) rotate(-90)" x="0" y="0" font-size="14" text-anchor="middle" font-weight="bold" font-family='"Liberation Sans", sans-serif'>Current (μA)</text>
<text x="287.9" y="291.2" font-size="22.3" text-anchor="middle" font-weight="bold" fill="#f00" font-family='"Liberation Serif", serif' >C</text>
<path d="M79.00,459.90L79.97,459.64L80.90,459.38L81.83,459.12L82.80,458.85L83.84,458.58L85.00,458.30L85.79,458.11L86.62,457.91L87.48,457.70L88.37,457.48L89.30,457.25L90.25,457.03L91.24,456.80L92.25,456.57L93.29,456.35L94.35,456.13L95.44,455.92L96.55,455.72L97.68,455.53L98.83,455.36L100.00,455.20L100.84,455.10L101.71,455.01L102.60,454.94L103.52,454.87L104.47,454.81L105.43,454.76L106.41,454.71L107.41,454.67L108.43,454.64L109.45,454.61L110.49,454.58L111.54,454.56L112.60,454.54L113.67,454.52L114.74,454.51L115.81,454.49L116.88,454.47L117.95,454.45L119.01,454.43L120.08,454.40L121.13,454.37L122.18,454.34L123.21,454.30L124.23,454.25L125.24,454.20L126.23,454.14L127.21,454.07L128.16,453.99L129.09,453.90L130.00,453.80L131.10,453.67L132.20,453.53L133.29,453.40L134.38,453.25L135.45,453.11L136.52,452.95L137.58,452.79L138.63,452.63L139.66,452.46L140.68,452.28L141.69,452.10L142.68,451.90L143.66,451.70L144.62,451.49L145.57,451.27L146.50,451.04L147.40,450.79L148.29,450.54L149.16,450.28L150.00,450.00L151.05,449.59L152.07,449.12L153.05,448.58L154.00,448.02L154.92,447.44L155.82,446.86L156.70,446.31L157.56,445.79L158.40,445.34L159.24,444.96L160.07,444.67L160.90,444.50L161.96,444.45L162.96,444.56L163.92,444.79L164.88,445.09L165.87,445.42L166.90,445.74L168.00,446.00L168.89,446.17L169.81,446.34L170.77,446.51L171.76,446.69L172.76,446.87L173.79,447.05L174.82,447.22L175.86,447.39L176.91,447.56L177.95,447.71L178.98,447.86L180.00,448.00L181.03,448.14L182.09,448.29L183.15,448.45L184.23,448.60L185.31,448.75L186.38,448.89L187.44,449.01L188.49,449.11L189.51,449.18L190.51,449.23L191.47,449.23L192.40,449.20L193.61,449.10L194.79,448.94L195.93,448.74L197.03,448.49L198.08,448.20L199.07,447.87L200.00,447.50L200.96,447.07L201.85,446.61L202.67,446.09L203.45,445.47L204.20,444.70L204.77,443.99L205.31,443.18L205.83,442.29L206.33,441.33L206.81,440.31L207.27,439.26L207.70,438.18L208.11,437.09L208.50,436.00L208.81,435.05L209.09,434.08L209.35,433.08L209.58,432.05L209.80,431.01L210.01,429.95L210.20,428.88L210.40,427.80L210.59,426.72L210.78,425.64L210.99,424.57L211.20,423.50L211.41,422.47L211.63,421.43L211.86,420.38L212.08,419.32L212.30,418.25L212.53,417.19L212.74,416.12L212.96,415.06L213.17,414.02L213.37,412.98L213.56,411.97L213.73,410.97L213.90,410.00L214.08,408.85L214.25,407.72L214.40,406.63L214.54,405.55L214.67,404.49L214.79,403.43L214.92,402.36L215.06,401.29L215.20,400.20L215.33,399.20L215.47,398.20L215.60,397.20L215.73,396.21L215.86,395.21L215.99,394.20L216.13,393.18L216.28,392.14L216.44,391.08L216.60,390.00L216.75,389.06L216.90,388.09L217.06,387.09L217.22,386.07L217.39,385.03L217.57,383.99L217.74,382.94L217.92,381.90L218.10,380.86L218.28,379.84L218.46,378.83L218.65,377.85L218.82,376.91L219.00,376.00L219.21,374.89L219.41,373.78L219.60,372.69L219.79,371.62L220.00,370.59L220.21,369.60L220.44,368.66L220.71,367.79L221.00,367.00L221.52,365.79L222.10,364.63L222.70,363.75L223.30,363.40L224.06,363.92L224.83,365.14L225.50,366.50L225.87,367.44L226.15,368.44L226.39,369.53L226.66,370.74L227.00,372.10L227.20,372.84L227.41,373.64L227.63,374.51L227.86,375.44L228.09,376.41L228.34,377.43L228.60,378.48L228.86,379.55L229.14,380.64L229.43,381.74L229.72,382.85L230.02,383.95L230.34,385.04L230.66,386.11L230.99,387.15L231.33,388.16L231.68,389.12L232.03,390.04L232.40,390.90L232.87,391.95L233.34,392.98L233.81,393.99L234.29,394.98L234.78,395.94L235.30,396.87L235.84,397.77L236.41,398.62L237.01,399.44L237.66,400.21L238.35,400.93L239.10,401.60L239.92,402.24L240.82,402.86L241.77,403.45L242.77,404.01L243.81,404.52L244.88,404.98L245.95,405.39L247.03,405.73L248.09,406.00L249.14,406.19L250.14,406.29L251.10,406.30L252.10,406.19L253.09,405.95L254.07,405.61L255.04,405.18L255.99,404.67L256.93,404.10L257.85,403.50L258.75,402.87L259.63,402.23L260.50,401.60L261.30,401.00L262.09,400.37L262.87,399.72L263.63,399.03L264.37,398.32L265.10,397.59L265.81,396.83L266.51,396.04L267.19,395.22L267.85,394.37L268.50,393.50L269.07,392.68L269.62,391.81L270.17,390.90L270.70,389.96L271.22,388.99L271.72,388.01L272.21,387.01L272.69,386.00L273.15,384.99L273.60,383.99L274.02,383.01L274.43,382.04L274.83,381.10L275.20,380.20L275.60,379.20L275.97,378.24L276.32,377.30L276.64,376.38L276.94,375.46L277.23,374.54L277.50,373.60L277.77,372.64L278.03,371.64L278.30,370.60L278.52,369.66L278.74,368.70L278.94,367.70L279.13,366.69L279.32,365.66L279.50,364.61L279.68,363.55L279.85,362.48L280.02,361.41L280.19,360.34L280.37,359.26L280.54,358.20L280.72,357.14L280.90,356.10L280.90,356.10L280.77,357.19L280.65,358.28L280.53,359.38L280.41,360.49L280.29,361.59L280.16,362.68L280.04,363.77L279.91,364.85L279.78,365.92L279.64,366.97L279.50,368.00L279.35,369.09L279.22,370.15L279.10,371.17L278.97,372.18L278.83,373.20L278.66,374.22L278.46,375.27L278.21,376.36L277.90,377.50L277.64,378.35L277.34,379.25L277.01,380.18L276.64,381.14L276.25,382.12L275.84,383.12L275.42,384.13L274.98,385.14L274.53,386.15L274.08,387.16L273.63,388.15L273.19,389.13L272.75,390.07L272.33,390.99L271.93,391.87L271.55,392.71L271.20,393.50L270.71,394.57L270.25,395.56L269.80,396.49L269.36,397.38L268.94,398.25L268.52,399.13L268.11,400.04L267.70,401.00L267.34,401.95L267.01,402.91L266.70,403.88L266.40,404.86L266.09,405.86L265.76,406.87L265.40,407.90L264.98,408.94L264.50,410.00L264.08,410.85L263.64,411.72L263.17,412.63L262.68,413.55L262.17,414.48L261.63,415.43L261.07,416.38L260.50,417.33L259.90,418.27L259.29,419.20L258.66,420.12L258.01,421.01L257.35,421.87L256.68,422.71L256.00,423.50L255.32,424.24L254.63,424.95L253.92,425.63L253.19,426.29L252.45,426.93L251.70,427.55L250.92,428.16L250.14,428.77L249.33,429.36L248.52,429.96L247.68,430.55L246.84,431.15L245.97,431.75L245.09,432.37L244.20,433.00L243.44,433.53L242.66,434.06L241.86,434.59L241.03,435.13L240.19,435.66L239.33,436.20L238.46,436.74L237.57,437.28L236.68,437.82L235.78,438.35L234.88,438.89L233.97,439.43L233.07,439.97L232.17,440.50L231.27,441.04L230.38,441.57L229.50,442.10L228.62,442.62L227.77,443.15L226.93,443.67L226.10,444.19L225.30,444.70L224.41,445.28L223.54,445.86L222.68,446.43L221.83,447.01L221.00,447.58L220.17,448.15L219.35,448.72L218.53,449.28L217.72,449.84L216.91,450.40L216.11,450.96L215.30,451.51L214.49,452.06L213.68,452.60L212.86,453.14L212.03,453.67L211.20,454.20L210.33,454.75L209.47,455.31L208.62,455.87L207.77,456.44L206.92,457.00L206.07,457.56L205.22,458.12L204.36,458.66L203.50,459.20L202.63,459.72L201.75,460.22L200.85,460.70L199.94,461.17L199.01,461.61L198.07,462.02L197.10,462.40L196.19,462.71L195.26,462.99L194.30,463.24L193.31,463.45L192.32,463.64L191.30,463.81L190.28,463.97L189.24,464.11L188.21,464.24L187.17,464.37L186.13,464.50L185.10,464.63L184.08,464.77L183.06,464.92L182.07,465.09L181.09,465.28L180.13,465.49L179.20,465.73L178.30,466.00L177.25,466.37L176.23,466.77L175.22,467.22L174.23,467.68L173.26,468.17L172.30,468.67L171.35,469.17L170.42,469.68L169.50,470.17L168.58,470.66L167.68,471.12L166.78,471.55L165.89,471.95L165.00,472.30L163.89,472.72L162.82,473.14L161.78,473.53L160.76,473.90L159.74,474.23L158.70,474.52L157.64,474.74L156.55,474.91L155.40,475.00L154.48,475.01L153.54,474.95L152.58,474.85L151.61,474.70L150.62,474.51L149.62,474.29L148.61,474.04L147.58,473.78L146.54,473.51L145.49,473.24L144.43,472.98L143.36,472.73L142.28,472.50L141.20,472.30L140.22,472.13L139.23,471.97L138.22,471.80L137.20,471.62L136.17,471.45L135.12,471.28L134.07,471.11L133.01,470.94L131.95,470.78L130.88,470.61L129.81,470.45L128.75,470.30L127.69,470.15L126.63,470.00L125.58,469.87L124.54,469.74L123.52,469.61L122.50,469.50L121.43,469.39L120.35,469.27L119.26,469.16L118.17,469.05L117.07,468.94L115.98,468.84L114.89,468.75L113.82,468.66L112.76,468.58L111.71,468.52L110.68,468.46L109.68,468.42L108.71,468.39L107.77,468.38L106.87,468.38L106.00,468.40L104.86,468.45L103.80,468.53L102.80,468.62L101.83,468.75L100.89,468.89L99.94,469.07L98.99,469.27L98.00,469.50L97.04,469.78L96.08,470.15L95.12,470.56L94.17,471.01L93.20,471.44L92.23,471.85L91.24,472.20L90.23,472.46L89.20,472.60L88.26,472.62L87.30,472.57L86.33,472.44L85.34,472.26L84.34,472.03L83.33,471.78L82.32,471.50L81.31,471.23L80.30,470.96L79.30,470.71L78.30,470.50" fill="none" stroke="#22dd77" stroke-width="1.8" stroke-linejoin="round" stroke-linecap="round"/>
<path d="M78.30,459.00L79.28,458.80L80.22,458.60L81.16,458.39L82.12,458.19L83.11,457.99L84.16,457.79L85.30,457.60L86.17,457.46L87.07,457.33L87.99,457.19L88.95,457.05L89.93,456.92L90.94,456.79L91.98,456.66L93.05,456.53L94.14,456.40L95.26,456.27L96.40,456.15L97.58,456.03L98.78,455.91L100.00,455.80L100.84,455.73L101.73,455.67L102.64,455.61L103.60,455.56L104.58,455.52L105.58,455.48L106.62,455.45L107.67,455.41L108.74,455.39L109.83,455.36L110.93,455.33L112.03,455.31L113.14,455.28L114.26,455.26L115.37,455.23L116.49,455.19L117.59,455.16L118.69,455.12L119.77,455.07L120.84,455.02L121.89,454.96L122.92,454.89L123.92,454.82L124.89,454.74L125.84,454.64L126.75,454.54L127.63,454.42L128.46,454.30L129.25,454.15L130.00,454.00L131.25,453.69L132.42,453.33L133.52,452.94L134.55,452.53L135.53,452.11L136.47,451.67L137.37,451.23L138.26,450.80L139.13,450.39L140.00,450.00L141.12,449.49L142.19,448.97L143.22,448.46L144.21,447.97L145.17,447.55L146.10,447.20L147.41,446.79L148.64,446.52L150.00,446.40L150.87,446.43L151.79,446.53L152.74,446.70L153.74,446.90L154.78,447.11L155.87,447.32L157.00,447.50L157.87,447.62L158.77,447.74L159.71,447.88L160.67,448.01L161.66,448.14L162.68,448.28L163.70,448.40L164.75,448.53L165.80,448.65L166.85,448.75L167.91,448.85L168.96,448.93L170.00,449.00L170.97,449.05L171.97,449.10L172.98,449.15L174.01,449.19L175.04,449.22L176.08,449.24L177.12,449.26L178.16,449.27L179.19,449.27L180.21,449.25L181.21,449.23L182.20,449.19L183.16,449.14L184.10,449.08L185.00,449.00L186.20,448.89L187.40,448.80L188.59,448.70L189.74,448.57L190.86,448.41L191.93,448.20L192.93,447.92L193.86,447.56L194.70,447.10L195.53,446.47L196.24,445.74L196.87,444.93L197.44,444.04L197.96,443.08L198.48,442.06L199.00,441.00L199.38,440.21L199.74,439.39L200.10,438.54L200.44,437.65L200.77,436.74L201.09,435.80L201.40,434.82L201.70,433.82L201.98,432.78L202.25,431.71L202.51,430.61L202.76,429.47L203.00,428.30L203.15,427.48L203.30,426.63L203.43,425.76L203.56,424.86L203.68,423.93L203.79,422.99L203.90,422.02L203.99,421.03L204.09,420.03L204.18,419.01L204.26,417.98L204.34,416.93L204.41,415.88L204.48,414.82L204.55,413.75L204.61,412.67L204.67,411.60L204.73,410.52L204.79,409.44L204.84,408.36L204.90,407.28L204.95,406.21L205.01,405.15L205.06,404.10L205.12,403.05L205.18,402.02L205.24,401.00L205.30,400.00L205.36,398.96L205.42,397.93L205.48,396.89L205.53,395.85L205.58,394.81L205.62,393.77L205.67,392.73L205.71,391.69L205.75,390.65L205.79,389.62L205.82,388.58L205.86,387.55L205.90,386.52L205.93,385.49L205.97,384.47L206.01,383.45L206.04,382.43L206.08,381.42L206.13,380.41L206.17,379.41L206.22,378.41L206.27,377.41L206.32,376.43L206.38,375.44L206.44,374.47L206.50,373.50L206.58,372.42L206.65,371.33L206.73,370.25L206.82,369.16L206.90,368.07L206.99,366.98L207.08,365.90L207.17,364.82L207.27,363.75L207.36,362.68L207.46,361.63L207.56,360.59L207.66,359.56L207.76,358.55L207.86,357.55L207.96,356.57L208.07,355.61L208.18,354.67L208.28,353.76L208.39,352.87L208.50,352.00L208.65,350.85L208.80,349.74L208.95,348.66L209.10,347.62L209.25,346.61L209.41,345.62L209.57,344.66L209.74,343.72L209.92,342.80L210.10,341.89L210.30,341.00L210.57,339.78L210.84,338.44L211.14,337.11L211.44,335.88L211.75,334.87L212.07,334.17L212.40,333.90L212.83,334.22L213.30,335.11L213.77,336.34L214.22,337.70L214.60,339.00L214.82,339.86L215.00,340.77L215.15,341.70L215.28,342.67L215.40,343.68L215.52,344.71L215.66,345.78L215.81,346.87L216.00,348.00L216.16,348.88L216.32,349.79L216.49,350.73L216.67,351.70L216.85,352.70L217.03,353.71L217.23,354.74L217.43,355.77L217.63,356.82L217.85,357.87L218.07,358.91L218.30,359.96L218.54,360.99L218.78,362.01L219.04,363.02L219.30,364.00L219.58,365.02L219.86,366.05L220.16,367.08L220.45,368.12L220.76,369.15L221.07,370.18L221.39,371.20L221.72,372.22L222.06,373.22L222.42,374.21L222.78,375.17L223.16,376.12L223.56,377.04L223.97,377.94L224.40,378.80L224.92,379.79L225.45,380.77L226.00,381.72L226.57,382.66L227.16,383.57L227.76,384.45L228.39,385.29L229.03,386.09L229.70,386.85L230.39,387.55L231.10,388.20L232.02,388.95L233.01,389.68L234.04,390.36L235.09,390.97L236.15,391.48L237.18,391.88L238.18,392.12L239.10,392.20L240.21,392.00L241.27,391.52L242.28,390.86L243.25,390.12L244.20,389.40L245.10,388.73L245.96,388.03L246.79,387.28L247.63,386.44L248.50,385.50L249.09,384.82L249.72,384.07L250.36,383.27L251.02,382.43L251.67,381.55L252.33,380.65L252.97,379.73L253.58,378.81L254.17,377.89L254.71,376.98L255.20,376.10L255.68,375.14L256.11,374.18L256.49,373.22L256.84,372.25L257.17,371.28L257.50,370.31L257.82,369.34L258.15,368.37L258.50,367.40L258.50,367.40L258.25,368.50L258.01,369.61L257.77,370.72L257.53,371.82L257.27,372.91L257.00,374.00L256.74,375.02L256.48,376.00L256.21,376.98L255.92,377.98L255.59,379.04L255.20,380.20L254.92,381.01L254.61,381.87L254.28,382.79L253.93,383.74L253.56,384.72L253.18,385.72L252.78,386.74L252.37,387.76L251.95,388.78L251.53,389.79L251.10,390.77L250.66,391.72L250.23,392.63L249.80,393.50L249.26,394.49L248.69,395.45L248.10,396.39L247.49,397.31L246.88,398.20L246.28,399.08L245.70,399.93L245.16,400.77L244.65,401.59L244.20,402.40L243.73,403.38L243.34,404.30L243.01,405.20L242.67,406.10L242.28,407.02L241.80,408.00L241.34,408.84L240.84,409.72L240.31,410.63L239.74,411.56L239.14,412.51L238.52,413.45L237.90,414.39L237.26,415.30L236.63,416.17L236.00,417.00L235.30,417.87L234.61,418.68L233.92,419.45L233.21,420.20L232.48,420.96L231.71,421.75L230.88,422.59L230.00,423.50L229.43,424.09L228.84,424.71L228.22,425.34L227.57,426.00L226.90,426.68L226.22,427.37L225.52,428.08L224.80,428.80L224.07,429.53L223.33,430.27L222.59,431.02L221.83,431.77L221.08,432.52L220.32,433.28L219.57,434.03L218.82,434.78L218.07,435.52L217.34,436.26L216.61,436.99L215.90,437.70L215.16,438.45L214.43,439.23L213.71,440.02L213.00,440.81L212.28,441.62L211.57,442.43L210.86,443.25L210.15,444.06L209.44,444.86L208.72,445.65L207.99,446.44L207.26,447.20L206.52,447.95L205.77,448.67L205.01,449.36L204.23,450.03L203.44,450.66L202.63,451.25L201.80,451.80L200.91,452.34L200.01,452.83L199.08,453.30L198.14,453.73L197.19,454.13L196.22,454.50L195.25,454.85L194.26,455.18L193.27,455.49L192.28,455.79L191.28,456.08L190.27,456.35L189.27,456.62L188.27,456.89L187.28,457.16L186.28,457.43L185.30,457.70L184.27,457.98L183.22,458.24L182.15,458.49L181.07,458.73L179.99,458.95L178.90,459.16L177.82,459.37L176.74,459.57L175.67,459.77L174.61,459.96L173.58,460.16L172.56,460.36L171.57,460.56L170.61,460.76L169.69,460.98L168.80,461.20L167.68,461.49L166.58,461.77L165.52,462.04L164.50,462.31L163.52,462.59L162.57,462.89L161.67,463.22L160.81,463.59L160.00,464.00L159.12,464.55L158.36,465.15L157.66,465.79L156.96,466.47L156.23,467.17L155.40,467.90L154.72,468.51L154.02,469.20L153.29,469.96L152.54,470.76L151.76,471.56L150.96,472.34L150.14,473.07L149.29,473.73L148.42,474.29L147.52,474.73L146.60,475.00L145.71,475.10L144.80,475.08L143.86,474.95L142.89,474.72L141.90,474.41L140.89,474.04L139.86,473.63L138.82,473.19L137.77,472.75L136.71,472.31L135.64,471.89L134.57,471.52L133.50,471.20L132.52,470.94L131.54,470.68L130.54,470.41L129.53,470.14L128.51,469.87L127.48,469.61L126.44,469.34L125.40,469.08L124.36,468.82L123.31,468.57L122.26,468.33L121.20,468.10L120.15,467.88L119.10,467.67L118.05,467.48L117.00,467.30L116.01,467.15L115.00,467.00L113.98,466.87L112.95,466.75L111.92,466.63L110.88,466.52L109.84,466.43L108.81,466.34L107.77,466.25L106.75,466.18L105.74,466.11L104.73,466.04L103.75,465.99L102.78,465.93L101.83,465.89L100.90,465.84L100.00,465.80L98.82,465.75L97.68,465.70L96.58,465.66L95.50,465.63L94.45,465.61L93.40,465.61L92.36,465.62L91.32,465.66L90.27,465.72L89.20,465.80L88.21,465.91L87.22,466.04L86.22,466.20L85.23,466.38L84.24,466.57L83.25,466.78L82.26,466.99L81.27,467.20L80.28,467.41L79.29,467.61L78.30,467.80" fill="none" stroke="#f050f0" stroke-width="1.8" stroke-linejoin="round" stroke-linecap="round"/>
<path d="M55.60,459.40L56.19,458.66L57.00,458.00L57.70,457.75L58.58,457.55L59.60,457.41L60.73,457.31L61.93,457.23L63.19,457.16L64.45,457.08L65.70,457.00L66.61,456.93L67.53,456.88L68.49,456.82L69.46,456.78L70.45,456.74L71.45,456.70L72.48,456.66L73.52,456.63L74.57,456.59L75.64,456.56L76.71,456.52L77.80,456.49L78.90,456.45L80.00,456.40L80.92,456.36L81.85,456.32L82.78,456.27L83.72,456.23L84.67,456.18L85.63,456.13L86.59,456.08L87.56,456.03L88.55,455.98L89.54,455.94L90.54,455.89L91.55,455.84L92.57,455.79L93.60,455.74L94.64,455.70L95.69,455.66L96.75,455.61L97.82,455.57L98.90,455.54L100.00,455.50L100.91,455.47L101.84,455.45L102.78,455.43L103.74,455.42L104.72,455.40L105.71,455.39L106.71,455.38L107.72,455.37L108.75,455.37L109.78,455.36L110.81,455.36L111.86,455.35L112.90,455.35L113.95,455.35L115.00,455.34L116.05,455.34L117.10,455.33L118.15,455.32L119.19,455.31L120.23,455.30L121.26,455.29L122.28,455.27L123.29,455.25L124.29,455.23L125.28,455.20L126.26,455.17L127.22,455.13L128.17,455.09L129.09,455.05L130.00,455.00L131.10,454.93L132.19,454.86L133.27,454.79L134.35,454.71L135.41,454.63L136.47,454.54L137.52,454.46L138.55,454.36L139.58,454.27L140.59,454.17L141.59,454.06L142.58,453.96L143.56,453.85L144.52,453.74L145.47,453.62L146.41,453.50L147.33,453.38L148.24,453.26L149.13,453.13L150.00,453.00L151.12,452.84L152.23,452.68L153.33,452.53L154.42,452.38L155.48,452.23L156.52,452.06L157.52,451.88L158.48,451.68L159.39,451.46L160.26,451.21L161.06,450.92L161.80,450.60L162.85,450.02L163.76,449.37L164.55,448.67L165.28,447.88L166.00,447.00L166.60,446.18L167.15,445.31L167.67,444.37L168.16,443.37L168.63,442.31L169.07,441.19L169.50,440.00L169.76,439.18L170.01,438.31L170.24,437.40L170.46,436.46L170.66,435.49L170.86,434.48L171.05,433.46L171.23,432.42L171.41,431.36L171.58,430.30L171.76,429.23L171.93,428.16L172.12,427.09L172.30,426.04L172.50,425.00L172.69,424.03L172.88,423.04L173.07,422.05L173.26,421.05L173.45,420.04L173.64,419.03L173.83,418.01L174.02,416.99L174.21,415.97L174.40,414.96L174.59,413.94L174.78,412.93L174.97,411.93L175.15,410.93L175.34,409.94L175.52,408.97L175.70,408.00L175.90,406.94L176.10,405.91L176.30,404.90L176.49,403.90L176.69,402.92L176.88,401.94L177.08,400.96L177.27,399.97L177.46,398.96L177.65,397.94L177.84,396.88L178.02,395.80L178.21,394.67L178.40,393.50L178.54,392.62L178.67,391.71L178.81,390.79L178.94,389.84L179.07,388.88L179.21,387.90L179.34,386.90L179.47,385.89L179.60,384.86L179.73,383.83L179.86,382.78L179.99,381.73L180.12,380.66L180.25,379.60L180.38,378.52L180.51,377.45L180.64,376.37L180.77,375.29L180.90,374.21L181.03,373.13L181.16,372.06L181.29,370.99L181.41,369.93L181.54,368.88L181.67,367.83L181.80,366.80L181.92,365.80L182.05,364.78L182.17,363.75L182.30,362.71L182.43,361.66L182.55,360.60L182.68,359.53L182.81,358.46L182.93,357.39L183.06,356.32L183.18,355.25L183.31,354.18L183.43,353.12L183.56,352.07L183.68,351.02L183.81,349.99L183.93,348.97L184.05,347.97L184.17,346.99L184.29,346.02L184.41,345.08L184.53,344.16L184.65,343.27L184.76,342.41L184.88,341.57L184.99,340.77L185.10,340.00L185.27,338.79L185.43,337.66L185.57,336.59L185.71,335.57L185.86,334.59L186.01,333.64L186.17,332.72L186.35,331.81L186.56,330.91L186.80,330.00L187.11,328.90L187.44,327.68L187.81,326.44L188.19,325.24L188.59,324.17L188.99,323.31L189.40,322.72L189.80,322.50L190.25,322.72L190.72,323.34L191.21,324.27L191.70,325.40L192.17,326.63L192.60,327.86L193.00,329.00L193.29,329.90L193.55,330.85L193.78,331.84L193.99,332.85L194.20,333.88L194.39,334.92L194.58,335.96L194.77,337.00L194.98,338.01L195.20,339.00L195.45,340.02L195.69,341.01L195.94,341.99L196.19,342.96L196.45,343.94L196.71,344.92L196.97,345.92L197.23,346.94L197.50,348.00L197.73,348.95L197.94,349.92L198.15,350.91L198.35,351.92L198.56,352.95L198.77,353.98L199.00,355.01L199.24,356.05L199.51,357.08L199.80,358.10L200.13,359.11L200.50,360.10L200.89,361.07L201.30,362.08L201.74,363.11L202.20,364.14L202.68,365.18L203.19,366.21L203.71,367.21L204.25,368.18L204.81,369.10L205.38,369.97L205.98,370.76L206.58,371.48L207.20,372.10L208.08,372.85L209.00,373.53L209.95,374.11L210.93,374.58L211.93,374.92L212.92,375.10L213.90,375.10L214.80,374.89L215.73,374.47L216.69,373.89L217.65,373.18L218.60,372.40L219.51,371.60L220.38,370.81L221.18,370.10L221.90,369.50L222.77,368.81L223.50,368.20L224.21,367.56L225.00,366.80L225.61,366.20L226.26,365.55L226.95,364.84L227.66,364.10L228.38,363.33L229.09,362.53L229.79,361.72L230.47,360.91L231.10,360.10L231.70,359.28L232.27,358.44L232.83,357.58L233.36,356.71L233.89,355.82L234.41,354.94L234.94,354.05L235.46,353.17L236.00,352.30L236.00,352.30L235.84,353.33L235.69,354.35L235.54,355.37L235.40,356.38L235.26,357.39L235.12,358.40L234.97,359.41L234.82,360.43L234.67,361.46L234.50,362.50L234.32,363.55L234.13,364.61L233.92,365.70L233.70,366.80L233.50,367.74L233.29,368.71L233.07,369.69L232.84,370.70L232.60,371.72L232.36,372.75L232.11,373.79L231.85,374.84L231.58,375.89L231.31,376.95L231.03,378.00L230.75,379.05L230.47,380.08L230.18,381.11L229.89,382.13L229.59,383.13L229.30,384.11L229.00,385.06L228.70,386.00L228.40,386.90L228.04,387.94L227.67,388.96L227.30,389.97L226.91,390.96L226.52,391.94L226.12,392.90L225.73,393.84L225.33,394.77L224.93,395.68L224.53,396.58L224.14,397.46L223.75,398.32L223.37,399.17L223.00,400.00L222.55,401.00L222.12,401.95L221.70,402.86L221.28,403.74L220.86,404.61L220.43,405.49L219.98,406.39L219.50,407.32L219.00,408.30L218.56,409.14L218.09,410.03L217.60,410.96L217.09,411.92L216.56,412.90L216.02,413.88L215.48,414.87L214.94,415.85L214.40,416.81L213.88,417.74L213.37,418.63L212.88,419.48L212.43,420.27L212.00,421.00L211.35,422.13L210.79,423.13L210.24,424.04L209.64,424.95L208.90,425.90L208.27,426.61L207.57,427.32L206.82,428.02L206.02,428.73L205.20,429.44L204.35,430.17L203.50,430.92L202.64,431.70L201.80,432.50L201.12,433.20L200.44,433.94L199.76,434.71L199.07,435.51L198.38,436.32L197.68,437.14L196.97,437.97L196.25,438.78L195.52,439.57L194.77,440.34L194.00,441.07L193.21,441.76L192.40,442.40L191.57,442.98L190.69,443.53L189.79,444.05L188.86,444.54L187.91,445.00L186.95,445.45L185.99,445.88L185.03,446.30L184.09,446.70L183.17,447.10L182.27,447.50L181.42,447.90L180.60,448.30L179.66,448.81L178.81,449.30L178.01,449.78L177.23,450.25L176.43,450.71L175.57,451.15L174.60,451.58L173.50,452.00L172.76,452.24L171.98,452.48L171.16,452.72L170.30,452.95L169.39,453.17L168.46,453.39L167.49,453.60L166.50,453.81L165.48,454.02L164.43,454.22L163.37,454.41L162.29,454.60L161.19,454.79L160.08,454.98L158.96,455.16L157.83,455.33L156.70,455.51L155.57,455.68L154.45,455.85L153.32,456.02L152.20,456.18L151.10,456.34L150.00,456.50L149.06,456.63L148.10,456.76L147.13,456.89L146.15,457.02L145.15,457.14L144.15,457.25L143.14,457.37L142.12,457.48L141.09,457.59L140.06,457.69L139.02,457.80L137.99,457.90L136.94,458.00L135.90,458.09L134.86,458.19L133.82,458.28L132.78,458.38L131.75,458.47L130.72,458.56L129.69,458.65L128.68,458.73L127.67,458.82L126.67,458.91L125.67,458.99L124.69,459.08L123.73,459.16L122.77,459.25L121.83,459.33L120.91,459.41L120.00,459.50L118.91,459.60L117.84,459.71L116.78,459.81L115.74,459.91L114.72,460.01L113.70,460.11L112.70,460.20L111.71,460.30L110.73,460.39L109.75,460.49L108.78,460.58L107.81,460.67L106.84,460.75L105.88,460.84L104.91,460.92L103.94,461.00L102.96,461.08L101.98,461.15L101.00,461.23L100.00,461.30L99.00,461.37L97.99,461.43L96.97,461.50L95.96,461.55L94.93,461.61L93.91,461.67L92.89,461.72L91.86,461.77L90.84,461.82L89.82,461.86L88.81,461.91L87.79,461.95L86.79,462.00L85.79,462.04L84.80,462.08L83.82,462.13L82.84,462.17L81.88,462.21L80.94,462.26L80.00,462.30L78.93,462.35L77.87,462.40L76.81,462.44L75.75,462.49L74.71,462.53L73.68,462.57L72.65,462.62L71.64,462.66L70.64,462.70L69.66,462.75L68.69,462.79L67.74,462.84L66.81,462.89L65.89,462.94L65.00,463.00L63.86,463.08L62.76,463.16L61.70,463.25L60.67,463.34L59.66,463.43L58.65,463.53L57.65,463.62L56.63,463.71L55.60,463.80" fill="none" stroke="#ff1a1a" stroke-width="1.8" stroke-linejoin="round" stroke-linecap="round"/>
<path d="M55.60,459.30L56.19,458.51L57.00,457.80L57.70,457.54L58.57,457.34L59.59,457.20L60.72,457.09L61.93,457.02L63.19,456.95L64.45,456.88L65.70,456.80L66.61,456.73L67.53,456.68L68.49,456.63L69.46,456.58L70.45,456.54L71.45,456.50L72.48,456.47L73.52,456.43L74.57,456.40L75.64,456.37L76.71,456.33L77.80,456.29L78.90,456.25L80.00,456.20L80.92,456.16L81.86,456.12L82.82,456.08L83.79,456.04L84.77,456.00L85.76,455.96L86.75,455.92L87.76,455.88L88.78,455.84L89.79,455.79L90.82,455.75L91.84,455.70L92.87,455.65L93.90,455.60L94.92,455.54L95.95,455.48L96.97,455.42L97.99,455.35L99.00,455.28L100.00,455.20L101.01,455.12L102.02,455.03L103.04,454.93L104.07,454.83L105.10,454.72L106.13,454.62L107.16,454.50L108.19,454.39L109.22,454.27L110.25,454.15L111.27,454.03L112.28,453.91L113.29,453.79L114.29,453.67L115.28,453.55L116.25,453.43L117.21,453.32L118.16,453.21L119.09,453.10L120.00,453.00L121.14,452.87L122.27,452.72L123.40,452.56L124.51,452.40L125.61,452.25L126.69,452.09L127.75,451.94L128.79,451.81L129.79,451.70L130.77,451.60L131.72,451.54L132.63,451.50L133.50,451.50L134.70,451.57L135.79,451.72L136.81,451.91L137.82,452.12L138.86,452.32L140.00,452.50L140.90,452.62L141.83,452.75L142.78,452.88L143.75,453.01L144.74,453.14L145.75,453.26L146.78,453.36L147.84,453.43L148.91,453.48L150.00,453.50L150.92,453.49L151.88,453.45L152.87,453.40L153.89,453.33L154.93,453.24L155.99,453.14L157.05,453.02L158.11,452.90L159.16,452.77L160.20,452.64L161.23,452.51L162.23,452.37L163.19,452.24L164.12,452.12L165.00,452.00L166.20,451.85L167.36,451.73L168.49,451.61L169.58,451.48L170.63,451.33L171.63,451.14L172.59,450.90L173.50,450.60L174.60,450.13L175.60,449.61L176.54,449.01L177.43,448.32L178.30,447.50L178.97,446.77L179.63,445.95L180.27,445.06L180.88,444.11L181.47,443.11L182.02,442.09L182.53,441.05L183.00,440.00L183.36,439.10L183.68,438.18L183.97,437.26L184.23,436.32L184.46,435.35L184.68,434.35L184.89,433.33L185.09,432.26L185.29,431.15L185.50,430.00L185.65,429.16L185.78,428.28L185.91,427.36L186.04,426.42L186.16,425.45L186.27,424.45L186.38,423.44L186.49,422.41L186.59,421.37L186.69,420.32L186.80,419.26L186.90,418.19L187.00,417.13L187.10,416.08L187.21,415.03L187.32,413.99L187.43,412.96L187.55,411.95L187.67,410.96L187.80,410.00L187.95,408.93L188.11,407.89L188.28,406.86L188.45,405.85L188.62,404.86L188.79,403.87L188.97,402.88L189.15,401.90L189.32,400.91L189.50,399.91L189.67,398.90L189.85,397.87L190.02,396.82L190.18,395.74L190.34,394.64L190.50,393.50L190.62,392.59L190.74,391.66L190.86,390.71L190.97,389.75L191.09,388.77L191.21,387.78L191.32,386.78L191.44,385.77L191.55,384.74L191.66,383.71L191.77,382.67L191.88,381.62L191.99,380.56L192.09,379.50L192.20,378.44L192.30,377.37L192.40,376.30L192.50,375.24L192.60,374.17L192.69,373.10L192.78,372.04L192.87,370.98L192.96,369.92L193.04,368.87L193.12,367.83L193.20,366.80L193.27,365.77L193.34,364.75L193.40,363.73L193.46,362.72L193.52,361.71L193.57,360.69L193.61,359.69L193.65,358.68L193.70,357.67L193.73,356.66L193.77,355.65L193.81,354.64L193.85,353.63L193.88,352.61L193.92,351.59L193.96,350.57L194.00,349.54L194.04,348.51L194.08,347.47L194.13,346.43L194.18,345.38L194.23,344.32L194.29,343.25L194.36,342.18L194.42,341.09L194.50,340.00L194.57,339.06L194.64,338.10L194.71,337.12L194.79,336.14L194.87,335.14L194.95,334.12L195.04,333.10L195.13,332.07L195.22,331.03L195.31,329.99L195.40,328.93L195.50,327.88L195.59,326.82L195.69,325.75L195.79,324.69L195.89,323.63L195.99,322.57L196.09,321.51L196.20,320.45L196.30,319.40L196.40,318.35L196.51,317.32L196.61,316.29L196.71,315.27L196.82,314.26L196.92,313.26L197.02,312.27L197.12,311.30L197.22,310.35L197.32,309.41L197.42,308.49L197.52,307.58L197.61,306.70L197.71,305.84L197.80,305.00L197.93,303.80L198.06,302.62L198.18,301.46L198.31,300.31L198.43,299.19L198.55,298.09L198.67,297.00L198.79,295.94L198.91,294.90L199.03,293.89L199.16,292.90L199.29,291.93L199.42,290.99L199.56,290.08L199.70,289.19L199.85,288.33L200.00,287.50L200.26,286.10L200.53,284.62L200.81,283.17L201.10,281.86L201.40,280.79L201.70,280.07L202.00,279.80L202.28,280.01L202.57,280.61L202.86,281.50L203.16,282.60L203.46,283.84L203.76,285.12L204.04,286.37L204.30,287.50L204.53,288.48L204.75,289.48L204.96,290.50L205.16,291.54L205.35,292.60L205.54,293.66L205.73,294.74L205.92,295.83L206.11,296.91L206.30,298.00L206.47,298.97L206.63,299.96L206.79,300.96L206.95,301.97L207.11,302.99L207.27,304.00L207.43,305.02L207.59,306.03L207.76,307.04L207.93,308.04L208.11,309.03L208.30,310.00L208.52,311.08L208.75,312.16L208.99,313.23L209.23,314.29L209.47,315.34L209.73,316.38L209.98,317.42L210.25,318.45L210.52,319.48L210.80,320.50L211.10,321.59L211.41,322.68L211.73,323.77L212.06,324.85L212.39,325.92L212.73,326.98L213.08,328.01L213.43,329.02L213.80,330.00L214.23,331.08L214.68,332.14L215.14,333.17L215.61,334.18L216.08,335.16L216.55,336.10L217.00,337.00L217.50,338.00L217.99,338.98L218.48,339.90L218.98,340.75L219.50,341.50L220.51,342.77L221.60,343.50L222.77,343.27L224.00,342.50L224.73,341.92L225.48,341.18L226.24,340.35L226.98,339.44L227.70,338.50L228.27,337.68L228.83,336.81L229.37,335.89L229.91,334.94L230.43,333.97L230.96,332.99L231.50,332.00L232.02,331.04L232.53,330.07L233.04,329.07L233.55,328.06L234.06,327.04L234.58,326.02L235.09,325.01L235.60,324.00L235.60,324.00L235.49,325.03L235.38,326.07L235.27,327.12L235.17,328.17L235.06,329.21L234.95,330.24L234.83,331.25L234.72,332.24L234.60,333.20L234.45,334.37L234.29,335.47L234.14,336.55L233.97,337.63L233.80,338.77L233.60,340.00L233.45,340.88L233.30,341.79L233.13,342.73L232.95,343.70L232.76,344.70L232.58,345.71L232.39,346.74L232.20,347.78L232.01,348.83L231.83,349.89L231.66,350.94L231.50,352.00L231.36,353.01L231.24,354.03L231.13,355.07L231.03,356.12L230.93,357.18L230.84,358.25L230.74,359.32L230.64,360.40L230.53,361.47L230.40,362.55L230.26,363.62L230.10,364.69L229.91,365.75L229.70,366.80L229.47,367.79L229.23,368.78L228.98,369.76L228.70,370.74L228.42,371.71L228.12,372.69L227.81,373.66L227.49,374.64L227.15,375.61L226.81,376.59L226.46,377.56L226.11,378.54L225.74,379.52L225.37,380.51L225.00,381.50L224.64,382.44L224.27,383.39L223.90,384.35L223.51,385.32L223.12,386.29L222.72,387.26L222.31,388.23L221.90,389.21L221.48,390.18L221.05,391.14L220.62,392.10L220.18,393.05L219.73,393.99L219.28,394.91L218.83,395.83L218.37,396.72L217.90,397.60L217.38,398.54L216.84,399.45L216.30,400.33L215.76,401.19L215.20,402.02L214.64,402.85L214.07,403.68L213.50,404.51L212.92,405.36L212.33,406.22L211.73,407.11L211.13,408.03L210.52,408.99L209.90,410.00L209.45,410.76L209.00,411.54L208.55,412.35L208.09,413.18L207.63,414.04L207.17,414.91L206.70,415.80L206.23,416.70L205.76,417.62L205.28,418.54L204.80,419.48L204.32,420.42L203.83,421.36L203.34,422.31L202.84,423.25L202.34,424.19L201.84,425.13L201.33,426.06L200.82,426.98L200.30,427.89L199.78,428.79L199.25,429.67L198.72,430.54L198.19,431.38L197.65,432.20L197.10,433.00L196.49,433.88L195.87,434.76L195.26,435.65L194.64,436.52L194.03,437.40L193.41,438.26L192.78,439.12L192.15,439.97L191.51,440.81L190.87,441.63L190.22,442.44L189.56,443.24L188.88,444.01L188.20,444.77L187.50,445.51L186.79,446.22L186.07,446.91L185.33,447.58L184.57,448.21L183.79,448.82L183.00,449.40L182.18,449.95L181.33,450.47L180.47,450.96L179.60,451.42L178.71,451.86L177.80,452.27L176.88,452.65L175.95,453.02L175.01,453.36L174.05,453.69L173.09,454.01L172.12,454.31L171.13,454.60L170.14,454.88L169.15,455.16L168.15,455.43L167.14,455.70L166.13,455.96L165.12,456.23L164.10,456.50L163.16,456.74L162.19,456.98L161.20,457.21L160.19,457.42L159.16,457.63L158.12,457.83L157.08,458.02L156.02,458.21L154.95,458.39L153.89,458.56L152.82,458.73L151.75,458.89L150.69,459.04L149.63,459.19L148.58,459.34L147.55,459.48L146.53,459.61L145.52,459.75L144.54,459.88L143.58,460.01L142.64,460.13L141.73,460.26L140.85,460.38L140.00,460.50L138.86,460.67L137.79,460.83L136.77,460.99L135.79,461.14L134.84,461.29L133.90,461.43L132.97,461.55L132.03,461.67L131.08,461.77L130.10,461.86L129.07,461.94L128.00,462.00L127.08,462.04L126.13,462.06L125.15,462.06L124.15,462.06L123.12,462.04L122.08,462.02L121.03,461.99L119.96,461.95L118.90,461.90L117.84,461.86L116.79,461.80L115.75,461.75L114.72,461.70L113.72,461.65L112.74,461.61L111.79,461.56L110.88,461.53L110.00,461.50L108.90,461.47L107.87,461.43L106.89,461.39L105.95,461.35L105.03,461.32L104.11,461.28L103.16,461.25L102.17,461.23L101.13,461.21L100.00,461.20L99.15,461.20L98.27,461.20L97.34,461.21L96.39,461.22L95.42,461.23L94.41,461.25L93.39,461.27L92.36,461.29L91.31,461.32L90.25,461.34L89.19,461.37L88.12,461.40L87.06,461.43L86.01,461.45L84.96,461.48L83.93,461.51L82.91,461.53L81.91,461.56L80.94,461.58L80.00,461.60L78.93,461.62L77.87,461.64L76.81,461.66L75.75,461.68L74.71,461.69L73.68,461.71L72.65,461.73L71.64,461.75L70.65,461.77L69.66,461.78L68.69,461.80L67.74,461.83L66.81,461.85L65.89,461.87L65.00,461.90L63.86,461.94L62.76,461.98L61.70,462.02L60.67,462.07L59.66,462.11L58.65,462.16L57.65,462.21L56.63,462.25L55.60,462.30" fill="none" stroke="#0000ff" stroke-width="1.8" stroke-linejoin="round" stroke-linecap="round"/>
<path d="M55.60,459.10L56.19,458.30L57.00,457.60L57.70,457.35L58.57,457.18L59.59,457.06L60.73,456.99L61.93,456.94L63.19,456.91L64.46,456.86L65.70,456.80L66.61,456.74L67.54,456.69L68.49,456.64L69.46,456.60L70.45,456.56L71.45,456.52L72.48,456.48L73.52,456.45L74.57,456.41L75.64,456.37L76.71,456.33L77.80,456.29L78.90,456.25L80.00,456.20L80.92,456.16L81.85,456.11L82.78,456.07L83.72,456.02L84.67,455.97L85.63,455.92L86.59,455.87L87.57,455.82L88.55,455.77L89.54,455.72L90.54,455.67L91.55,455.61L92.57,455.56L93.60,455.51L94.64,455.46L95.69,455.40L96.75,455.35L97.82,455.30L98.90,455.25L100.00,455.20L100.91,455.16L101.85,455.13L102.80,455.10L103.78,455.07L104.77,455.05L105.78,455.03L106.80,455.01L107.84,454.99L108.89,454.97L109.94,454.96L111.00,454.94L112.07,454.92L113.14,454.91L114.21,454.89L115.28,454.87L116.35,454.84L117.41,454.82L118.47,454.79L119.52,454.75L120.56,454.72L121.58,454.67L122.60,454.63L123.60,454.57L124.58,454.51L125.54,454.45L126.48,454.37L127.40,454.29L128.29,454.20L129.16,454.11L130.00,454.00L131.17,453.83L132.33,453.66L133.46,453.47L134.58,453.28L135.67,453.07L136.74,452.86L137.78,452.63L138.80,452.40L139.78,452.15L140.74,451.90L141.66,451.64L142.55,451.37L143.41,451.09L144.22,450.80L145.00,450.50L146.21,449.99L147.30,449.47L148.31,448.93L149.24,448.35L150.13,447.71L151.00,447.00L151.72,446.33L152.39,445.61L153.02,444.84L153.62,444.04L154.21,443.21L154.80,442.36L155.40,441.50L155.99,440.65L156.58,439.78L157.17,438.89L157.75,437.97L158.32,437.03L158.89,436.06L159.45,435.05L160.00,434.00L160.41,433.18L160.83,432.33L161.24,431.45L161.66,430.55L162.07,429.63L162.48,428.69L162.88,427.74L163.27,426.78L163.65,425.82L164.01,424.86L164.36,423.90L164.69,422.94L165.00,422.00L165.30,421.02L165.58,420.04L165.83,419.07L166.07,418.10L166.29,417.12L166.51,416.14L166.71,415.16L166.91,414.16L167.10,413.15L167.30,412.12L167.49,411.07L167.70,410.00L167.88,409.05L168.06,408.08L168.23,407.10L168.40,406.10L168.57,405.10L168.74,404.08L168.90,403.05L169.06,402.02L169.23,400.97L169.39,399.92L169.55,398.86L169.72,397.80L169.88,396.73L170.05,395.66L170.22,394.58L170.40,393.50L170.56,392.54L170.71,391.58L170.87,390.60L171.03,389.62L171.18,388.63L171.34,387.64L171.50,386.64L171.66,385.64L171.82,384.63L171.98,383.62L172.14,382.61L172.31,381.59L172.47,380.58L172.64,379.56L172.81,378.54L172.99,377.53L173.16,376.52L173.34,375.51L173.52,374.50L173.70,373.50L173.88,372.48L174.06,371.44L174.24,370.38L174.41,369.31L174.59,368.23L174.76,367.13L174.93,366.04L175.11,364.95L175.29,363.86L175.48,362.79L175.67,361.72L175.86,360.68L176.07,359.65L176.28,358.65L176.50,357.68L176.74,356.74L176.98,355.84L177.24,354.98L177.51,354.17L177.80,353.40L178.30,352.16L178.84,350.89L179.41,349.65L180.00,348.50L180.60,347.50L181.21,346.71L181.81,346.19L182.40,346.00L182.99,346.19L183.61,346.71L184.22,347.51L184.84,348.53L185.45,349.68L186.03,350.92L186.59,352.18L187.10,353.40L187.42,354.22L187.71,355.09L187.97,356.01L188.22,356.98L188.45,357.98L188.67,359.02L188.88,360.08L189.09,361.16L189.28,362.26L189.48,363.36L189.68,364.46L189.89,365.57L190.10,366.66L190.33,367.73L190.57,368.78L190.82,369.81L191.10,370.80L191.41,371.83L191.72,372.86L192.04,373.89L192.37,374.91L192.70,375.92L193.04,376.93L193.39,377.93L193.74,378.92L194.11,379.91L194.48,380.87L194.86,381.83L195.26,382.77L195.66,383.70L196.07,384.61L196.50,385.50L196.99,386.50L197.49,387.50L198.00,388.51L198.52,389.50L199.05,390.49L199.60,391.44L200.16,392.37L200.74,393.25L201.33,394.08L201.93,394.86L202.56,395.56L203.20,396.20L204.08,396.96L205.00,397.66L205.94,398.28L206.91,398.81L207.90,399.21L208.89,399.48L209.90,399.60L210.87,399.53L211.86,399.28L212.87,398.89L213.89,398.40L214.91,397.85L215.93,397.27L216.93,396.71L217.90,396.20L218.82,395.72L219.74,395.20L220.65,394.65L221.55,394.10L222.44,393.57L223.31,393.06L224.16,392.60L225.00,392.20L226.03,391.77L227.02,391.40L228.00,391.08L228.98,390.81L230.00,390.60L231.11,390.45L232.24,390.38L233.40,390.35L234.55,390.34L235.70,390.30L235.70,390.30L235.64,391.39L235.61,392.49L235.58,393.60L235.55,394.71L235.50,395.80L235.42,396.87L235.29,397.91L235.10,398.90L234.80,399.98L234.42,401.00L234.00,401.98L233.54,402.96L233.07,403.95L232.60,405.00L232.21,405.93L231.82,406.87L231.43,407.81L231.02,408.77L230.59,409.77L230.11,410.79L229.59,411.87L229.00,413.00L228.61,413.72L228.20,414.47L227.77,415.25L227.32,416.06L226.85,416.89L226.36,417.74L225.85,418.61L225.33,419.49L224.80,420.38L224.25,421.28L223.69,422.18L223.12,423.09L222.54,423.99L221.95,424.89L221.35,425.78L220.75,426.66L220.14,427.52L219.53,428.37L218.92,429.20L218.30,430.00L217.68,430.80L217.04,431.59L216.41,432.39L215.76,433.18L215.11,433.97L214.45,434.76L213.79,435.54L213.11,436.31L212.43,437.08L211.73,437.83L211.03,438.58L210.32,439.32L209.59,440.05L208.86,440.76L208.11,441.46L207.36,442.14L206.59,442.81L205.80,443.46L205.01,444.09L204.20,444.70L203.40,445.28L202.59,445.85L201.76,446.40L200.92,446.94L200.06,447.47L199.20,447.99L198.32,448.50L197.43,448.99L196.53,449.47L195.63,449.94L194.71,450.40L193.79,450.84L192.86,451.27L191.93,451.68L190.99,452.08L190.05,452.47L189.10,452.85L188.15,453.21L187.20,453.55L186.25,453.88L185.30,454.20L184.34,454.50L183.39,454.78L182.43,455.04L181.47,455.27L180.51,455.49L179.55,455.70L178.59,455.89L177.61,456.06L176.64,456.22L175.65,456.37L174.66,456.52L173.66,456.65L172.65,456.77L171.63,456.89L170.60,457.01L169.55,457.13L168.49,457.24L167.42,457.35L166.33,457.46L165.22,457.58L164.10,457.70L163.21,457.79L162.30,457.88L161.39,457.97L160.45,458.05L159.51,458.12L158.55,458.19L157.58,458.26L156.60,458.33L155.61,458.39L154.61,458.45L153.60,458.51L152.58,458.56L151.56,458.61L150.54,458.66L149.50,458.71L148.47,458.75L147.43,458.80L146.39,458.84L145.34,458.88L144.30,458.92L143.25,458.96L142.21,459.00L141.16,459.04L140.12,459.07L139.08,459.11L138.05,459.15L137.02,459.19L135.99,459.23L134.97,459.27L133.96,459.32L132.96,459.36L131.96,459.40L130.98,459.45L130.00,459.50L128.97,459.55L127.93,459.61L126.90,459.66L125.86,459.72L124.82,459.77L123.78,459.83L122.74,459.88L121.70,459.94L120.67,459.99L119.63,460.05L118.60,460.10L117.57,460.16L116.54,460.21L115.52,460.27L114.50,460.32L113.49,460.38L112.48,460.43L111.47,460.48L110.47,460.53L109.48,460.58L108.49,460.63L107.52,460.67L106.55,460.72L105.58,460.77L104.63,460.81L103.68,460.85L102.75,460.89L101.82,460.93L100.90,460.97L100.00,461.00L98.91,461.04L97.82,461.08L96.75,461.11L95.70,461.15L94.65,461.18L93.61,461.21L92.59,461.23L91.57,461.26L90.57,461.29L89.57,461.31L88.58,461.33L87.60,461.35L86.63,461.37L85.66,461.39L84.70,461.41L83.75,461.43L82.81,461.45L81.87,461.46L80.93,461.48L80.00,461.50L78.93,461.52L77.87,461.54L76.81,461.55L75.75,461.57L74.71,461.58L73.68,461.59L72.65,461.60L71.64,461.62L70.65,461.63L69.66,461.64L68.69,461.65L67.74,461.66L66.81,461.67L65.89,461.69L65.00,461.70L63.86,461.72L62.76,461.74L61.70,461.76L60.67,461.79L59.66,461.81L58.65,461.83L57.65,461.85L56.63,461.88L55.60,461.90" fill="none" stroke="#14cccc" stroke-width="1.8" stroke-linejoin="round" stroke-linecap="round"/>
<line x1="204.8" y1="287.6" x2="221.50" y2="287.60" stroke="#000" stroke-width="1.7" stroke-dasharray="none"/>
<path d="M226.00,287.60L220.00,290.20L220.00,285.00Z" fill="#000"/>
<text x="230" y="291.4" font-size="10.5" text-anchor="middle" font-weight="bold" fill="#000" font-family='"Liberation Sans", sans-serif' >7</text>
<line x1="283" y1="472.5" x2="201.00" y2="472.50" stroke="#000" stroke-width="1.5" stroke-dasharray="none"/>
<path d="M196.50,472.50L202.50,470.00L202.50,475.00Z" fill="#000"/>
<text x="191.9" y="476.5" font-size="10.5" text-anchor="middle" font-weight="bold" fill="#1a1adc" font-family='"Liberation Sans", sans-serif' >11</text>
<text x="287" y="476.5" font-size="10.5" text-anchor="middle" font-weight="bold" fill="#1a1adc" font-family='"Liberation Sans", sans-serif' >3</text>
<rect x="361" y="267.8" width="268.6" height="216.5" fill="none" stroke="#000" stroke-width="2"/>
<path d="M361.30,484.3v4M415.00,484.3v4M468.70,484.3v4M522.40,484.3v4M576.10,484.3v4M629.80,484.3v4M388.15,484.3v2.5M441.85,484.3v2.5M495.55,484.3v2.5M549.25,484.3v2.5M602.95,484.3v2.5" stroke="#000" stroke-width="1.6" fill="none"/>
<path d="M361,462.60h-4M361,419.20h-4M361,375.80h-4M361,332.40h-4M361,289.00h-4M361,484.30h-2.5M361,440.90h-2.5M361,397.50h-2.5M361,354.10h-2.5M361,310.70h-2.5M361,267.30h-2.5" stroke="#000" stroke-width="1.6" fill="none"/>
<text x="353" y="466.9" font-size="12" text-anchor="end" font-weight="bold" fill="#000" font-family='"Liberation Sans", sans-serif' >0.55</text>
<text x="353" y="423.49999999999994" font-size="12" text-anchor="end" font-weight="bold" fill="#000" font-family='"Liberation Sans", sans-serif' >0.60</text>
<text x="353" y="380.09999999999997" font-size="12" text-anchor="end" font-weight="bold" fill="#000" font-family='"Liberation Sans", sans-serif' >0.65</text>
<text x="353" y="336.69999999999993" font-size="12" text-anchor="end" font-weight="bold" fill="#000" font-family='"Liberation Sans", sans-serif' >0.70</text>
<text x="353" y="293.3" font-size="12" text-anchor="end" font-weight="bold" fill="#000" font-family='"Liberation Sans", sans-serif' >0.75</text>
<text x="361.3" y="501" font-size="12" text-anchor="middle" font-weight="bold" fill="#000" font-family='"Liberation Sans", sans-serif' >2</text>
<text x="415.0" y="501" font-size="12" text-anchor="middle" font-weight="bold" fill="#000" font-family='"Liberation Sans", sans-serif' >4</text>
<text x="468.70000000000005" y="501" font-size="12" text-anchor="middle" font-weight="bold" fill="#000" font-family='"Liberation Sans", sans-serif' >6</text>
<text x="522.4000000000001" y="501" font-size="12" text-anchor="middle" font-weight="bold" fill="#000" font-family='"Liberation Sans", sans-serif' >8</text>
<text x="576.1" y="501" font-size="12" text-anchor="middle" font-weight="bold" fill="#000" font-family='"Liberation Sans", sans-serif' >10</text>
<text x="629.8" y="501" font-size="12" text-anchor="middle" font-weight="bold" fill="#000" font-family='"Liberation Sans", sans-serif' >12</text>
<text x="495.3" y="516.6" font-size="14.5" text-anchor="middle" font-weight="bold" fill="#000" font-family='"Liberation Sans", sans-serif' >pH</text>
<text transform="translate(319.9,397.6) rotate(-90)" x="0" y="0" font-size="13.5" text-anchor="start" font-weight="bold" font-family='"Liberation Sans", sans-serif'>E<tspan font-size="12.5" dy="2.8">pa</tspan><tspan dy="-2.8" dx="1.6"> /V</tspan></text>
<text x="610.4" y="294.4" font-size="22.3" text-anchor="middle" font-weight="bold" fill="#f00" font-family='"Liberation Serif", serif' >D</text>
<text x="538" y="472.3" font-size="10" text-anchor="middle" font-weight="bold" fill="#000" font-family='"Liberation Sans", sans-serif' >R² = 0.9962</text>
<line x1="375.4" y1="282.5" x2="619.2" y2="468.5" stroke="#1a1a1a" stroke-width="1.3" stroke-dasharray="1.3,1.05"/>
<path d="M387.7,281.5V307.7M385.09999999999997,281.5h5.2M385.09999999999997,307.7h5.2" stroke="#ff3f9f" stroke-width="1.4" fill="none"/>
<path d="M441.5,322.9V347.0M438.9,322.9h5.2M438.9,347.0h5.2" stroke="#ff3f9f" stroke-width="1.4" fill="none"/>
<path d="M495.2,364.7V387.5M492.59999999999997,364.7h5.2M492.59999999999997,387.5h5.2" stroke="#ff3f9f" stroke-width="1.4" fill="none"/>
<path d="M549.3,412.2V433.3M546.6999999999999,412.2h5.2M546.6999999999999,433.3h5.2" stroke="#ff3f9f" stroke-width="1.4" fill="none"/>
<path d="M602.9,442.4V462.1M600.3,442.4h5.2M600.3,462.1h5.2" stroke="#ff3f9f" stroke-width="1.4" fill="none"/>
<circle cx="387.7" cy="294.2" r="3.7" fill="url(#ball)"/>
<circle cx="441.5" cy="335.3" r="3.7" fill="url(#ball)"/>
<circle cx="495.2" cy="375.9" r="3.7" fill="url(#ball)"/>
<circle cx="549.3" cy="422.8" r="3.7" fill="url(#ball)"/>
<circle cx="602.9" cy="452.3" r="3.7" fill="url(#ball)"/>
</svg>
</body></html>
